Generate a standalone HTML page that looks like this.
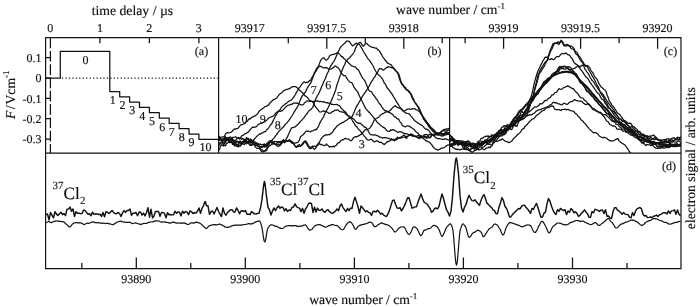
<!DOCTYPE html>
<html><head><meta charset="utf-8"><title>figure</title>
<style>html,body{margin:0;padding:0;background:#fff}svg{display:block}</style></head>
<body>
<svg width="700" height="307" viewBox="0 0 700 307">
<rect width="700" height="307" fill="#fff"/>
<g fill="none" stroke="#111" stroke-width="1.25" stroke-linejoin="round" stroke-linecap="butt">
<path d="M45.6 37.6 H681.0 V268.7 H45.6 Z M45.6 153.1 H681.0 M218.6 37.6 V153.1 M449.6 37.6 V153.1" stroke-width="1.2"/>
<path d="M99.9 37.6 v5.6 M149.4 37.6 v5.6 M198.9 37.6 v5.6 M45.6 57.7 h5.2 M45.6 78.0 h5.2 M45.6 98.4 h5.2 M45.6 118.7 h5.2 M45.6 139.1 h5.2 M249.8 37.6 v11.2 M326.8 37.6 v11.2 M403.8 37.6 v11.2 M288.3 37.6 v5.6 M365.3 37.6 v5.6 M442.2 37.6 v5.6 M503.6 37.6 v11.2 M580.6 37.6 v11.2 M657.6 37.6 v11.2 M465.1 37.6 v5.6 M542.1 37.6 v5.6 M619.1 37.6 v5.6 M136.3 268.7 v-11.3 M245.3 268.7 v-11.3 M354.4 268.7 v-11.3 M463.4 268.7 v-11.3 M572.5 268.7 v-11.3 M81.8 268.7 v-5.6 M190.8 268.7 v-5.6 M299.9 268.7 v-5.6 M408.9 268.7 v-5.6 M517.9 268.7 v-5.6 M627.0 268.7 v-5.6"/>
<path d="M50.4 37.6 V153" stroke-dasharray="10.7 2.6"/>
<path d="M62.0 78.2 H218.6" stroke-dasharray="1.2 2.25"/>
<path d="M46 78.2 L60.3 78.2 L60.3 51.4 L109.8 51.4 L109.8 91.5 L119.7 91.5 L119.7 96.8 L129.6 96.8 L129.6 102.1 L139.5 102.1 L139.5 107.4 L149.4 107.4 L149.4 112.7 L159.3 112.7 L159.3 118.0 L169.2 118.0 L169.2 123.4 L179.1 123.4 L179.1 128.7 L189.0 128.7 L189.0 134.0 L198.9 134.0 L198.9 139.3 L218.7 139.3"/>
<clipPath id="cb"><rect x="218.6" y="37.6" width="231.2" height="115.5"/></clipPath>
<clipPath id="cc"><rect x="449.8" y="37.6" width="231.4" height="115.5"/></clipPath>
<g clip-path="url(#cb)">
<path d="M218.5 140.5 L219.5 139.7 L220.5 137.3 L221.5 137.2 L222.5 136.8 L223.5 137.0 L224.5 136.1 L225.5 133.9 L226.5 132.8 L227.5 132.6 L228.5 132.8 L229.5 132.7 L230.5 132.5 L231.5 131.9 L232.5 131.1 L233.5 129.6 L234.5 128.9 L235.5 129.1 L236.5 128.6 L237.5 128.6 L238.5 127.7 L239.5 126.3 L240.5 125.2 L241.5 124.5 L242.5 124.5 L243.5 124.0 L244.5 123.7 L245.5 122.8 L246.5 121.3 L247.5 121.1 L248.5 119.4 L249.5 118.6 L250.5 118.8 L251.5 117.4 L252.5 117.2 L253.5 116.6 L254.5 116.1 L255.5 115.6 L256.5 114.8 L257.5 113.9 L258.5 112.2 L259.5 110.7 L260.5 110.1 L261.5 109.2 L262.5 108.5 L263.5 108.1 L264.5 106.9 L265.5 106.5 L266.5 106.3 L267.5 105.3 L268.5 105.2 L269.5 103.6 L270.5 102.2 L271.5 101.6 L272.5 100.3 L273.5 99.7 L274.5 99.4 L275.5 98.8 L276.5 98.2 L277.5 97.0 L278.5 95.5 L279.5 94.2 L280.5 93.4 L281.5 93.1 L282.5 92.1 L283.5 90.7 L284.5 90.5 L285.5 89.6 L286.5 89.4 L287.5 89.5 L288.5 88.8 L289.5 88.7 L290.5 87.9 L291.5 87.1 L292.5 86.8 L293.5 86.5 L294.5 86.5 L295.5 86.6 L296.5 87.3 L297.5 88.0 L298.5 89.1 L299.5 90.4 L300.5 90.8 L301.5 91.9 L302.5 92.6 L303.5 93.9 L304.5 95.3 L305.5 96.2 L306.5 96.6 L307.5 97.6 L308.5 99.0 L309.5 100.5 L310.5 100.9 L311.5 101.3 L312.5 101.8 L313.5 103.1 L314.5 105.4 L315.5 106.7 L316.5 108.1 L317.5 109.0 L318.5 110.7 L319.5 111.9 L320.5 112.0 L321.5 111.8 L322.5 111.0 L323.5 110.9 L324.5 111.4 L325.5 111.6 L326.5 111.7 L327.5 112.3 L328.5 113.1 L329.5 113.3 L330.5 113.2 L331.5 112.4 L332.5 111.5 L333.5 111.5 L334.5 110.4 L335.5 110.0 L336.5 110.3 L337.5 109.7 L338.5 110.4 L339.5 111.3 L340.5 111.6 L341.5 111.8 L342.5 112.1 L343.5 112.1 L344.5 112.7 L345.5 113.9 L346.5 114.6 L347.5 115.5 L348.5 115.8 L349.5 116.2 L350.5 117.6 L351.5 118.8 L352.5 120.8 L353.5 122.4 L354.5 123.9 L355.5 125.9 L356.5 126.4 L357.5 127.9 L358.5 129.2 L359.5 129.9 L360.5 131.4 L361.5 132.5 L362.5 133.5 L363.5 135.3 L364.5 136.4 L365.5 137.3 L366.5 139.1 L367.5 139.7 L368.5 140.2 L369.5 140.0 L370.5 139.3 L371.5 139.3 L372.5 140.2 L373.5 141.2 L374.5 142.0 L375.5 141.2 L376.5 140.7 L377.5 140.9 L378.5 141.7 L379.5 142.5 L380.5 142.2 L381.5 142.6 L382.5 143.3 L383.5 144.2 L384.5 144.5 L385.5 143.3 L386.5 142.8 L387.5 141.5 L388.5 141.7 L389.5 140.8 L390.5 140.5 L391.5 139.4 L392.5 139.8 L393.5 140.0 L394.5 140.2 L395.5 138.9 L396.5 138.5 L397.5 137.1 L398.5 138.1 L399.5 137.5 L400.5 138.0 L401.5 136.9 L402.5 136.1 L403.5 135.1 L404.5 135.1 L405.5 136.7 L406.5 136.7 L407.5 136.3 L408.5 135.4 L409.5 135.0 L410.5 134.4 L411.5 134.1 L412.5 134.9 L413.5 135.6 L414.5 136.6 L415.5 136.6 L416.5 137.0 L417.5 137.1 L418.5 138.2 L419.5 137.1 L420.5 136.1 L421.5 135.9 L422.5 136.0 L423.5 135.8 L424.5 134.5 L425.5 134.5 L426.5 134.4 L427.5 135.1 L428.5 136.3 L429.5 137.6 L430.5 137.4 L431.5 135.5 L432.5 134.5 L433.5 134.1 L434.5 135.2 L435.5 135.0 L436.5 134.1 L437.5 134.0 L438.5 132.8 L439.5 133.2 L440.5 133.0 L441.5 134.2 L442.5 135.2 L443.5 133.6 L444.5 133.5 L445.5 132.9 L446.5 133.8 L447.5 133.8 L448.5 132.7 L449.5 132.2"/>
<path d="M218.5 146.1 L219.5 144.5 L220.5 142.8 L221.5 142.0 L222.5 140.8 L223.5 138.9 L224.5 138.6 L225.5 138.5 L226.5 138.7 L227.5 137.8 L228.5 137.8 L229.5 137.1 L230.5 137.0 L231.5 138.1 L232.5 139.9 L233.5 140.4 L234.5 140.7 L235.5 141.1 L236.5 139.0 L237.5 138.2 L238.5 137.8 L239.5 139.2 L240.5 138.1 L241.5 135.9 L242.5 135.7 L243.5 135.0 L244.5 133.9 L245.5 133.7 L246.5 133.1 L247.5 132.5 L248.5 131.9 L249.5 130.7 L250.5 129.4 L251.5 128.2 L252.5 127.1 L253.5 127.3 L254.5 127.4 L255.5 126.8 L256.5 126.7 L257.5 125.4 L258.5 124.0 L259.5 124.0 L260.5 123.5 L261.5 123.0 L262.5 122.8 L263.5 122.2 L264.5 121.8 L265.5 121.0 L266.5 120.4 L267.5 119.3 L268.5 118.0 L269.5 117.5 L270.5 117.0 L271.5 116.9 L272.5 116.3 L273.5 116.0 L274.5 114.6 L275.5 113.5 L276.5 112.4 L277.5 111.8 L278.5 111.0 L279.5 111.2 L280.5 111.5 L281.5 110.7 L282.5 110.6 L283.5 109.3 L284.5 108.4 L285.5 107.2 L286.5 106.4 L287.5 105.5 L288.5 105.2 L289.5 105.1 L290.5 104.4 L291.5 104.4 L292.5 103.9 L293.5 103.1 L294.5 103.2 L295.5 103.1 L296.5 102.9 L297.5 103.3 L298.5 103.8 L299.5 104.0 L300.5 104.7 L301.5 104.8 L302.5 104.9 L303.5 104.5 L304.5 102.7 L305.5 102.2 L306.5 101.3 L307.5 100.8 L308.5 101.0 L309.5 101.3 L310.5 101.1 L311.5 101.3 L312.5 101.7 L313.5 101.4 L314.5 101.2 L315.5 100.8 L316.5 101.1 L317.5 100.8 L318.5 101.1 L319.5 101.8 L320.5 101.3 L321.5 101.6 L322.5 101.8 L323.5 101.6 L324.5 102.3 L325.5 102.3 L326.5 102.9 L327.5 102.7 L328.5 103.1 L329.5 103.2 L330.5 103.1 L331.5 104.4 L332.5 104.4 L333.5 104.5 L334.5 104.6 L335.5 104.5 L336.5 104.3 L337.5 104.7 L338.5 105.5 L339.5 105.7 L340.5 107.1 L341.5 108.7 L342.5 109.2 L343.5 110.6 L344.5 111.3 L345.5 112.0 L346.5 113.3 L347.5 115.0 L348.5 116.4 L349.5 117.5 L350.5 117.9 L351.5 117.9 L352.5 118.3 L353.5 118.8 L354.5 119.9 L355.5 121.2 L356.5 122.3 L357.5 122.7 L358.5 123.4 L359.5 123.1 L360.5 123.4 L361.5 124.5 L362.5 125.1 L363.5 126.3 L364.5 127.2 L365.5 127.2 L366.5 128.2 L367.5 129.8 L368.5 131.4 L369.5 133.6 L370.5 134.6 L371.5 134.7 L372.5 134.8 L373.5 135.3 L374.5 134.8 L375.5 134.9 L376.5 135.6 L377.5 135.7 L378.5 136.3 L379.5 137.2 L380.5 137.1 L381.5 137.5 L382.5 138.2 L383.5 137.6 L384.5 137.6 L385.5 137.6 L386.5 137.8 L387.5 138.2 L388.5 138.4 L389.5 138.6 L390.5 139.6 L391.5 138.7 L392.5 139.8 L393.5 139.2 L394.5 140.9 L395.5 139.9 L396.5 139.7 L397.5 138.9 L398.5 138.5 L399.5 137.9 L400.5 137.2 L401.5 137.9 L402.5 137.2 L403.5 137.1 L404.5 137.0 L405.5 137.6 L406.5 138.4 L407.5 136.5 L408.5 135.9 L409.5 134.8 L410.5 135.4 L411.5 135.6 L412.5 136.1 L413.5 135.9 L414.5 136.4 L415.5 136.2 L416.5 136.7 L417.5 137.7 L418.5 137.4 L419.5 138.6 L420.5 137.3 L421.5 137.7 L422.5 136.9 L423.5 136.9 L424.5 137.1 L425.5 137.6 L426.5 138.3 L427.5 137.8 L428.5 137.8 L429.5 137.6 L430.5 137.6 L431.5 135.4 L432.5 134.8 L433.5 134.8 L434.5 135.5 L435.5 133.9 L436.5 132.9 L437.5 133.2 L438.5 133.7 L439.5 133.7 L440.5 133.8 L441.5 134.0 L442.5 133.8 L443.5 134.1 L444.5 134.4 L445.5 134.0 L446.5 133.4 L447.5 133.6 L448.5 134.1 L449.5 133.8"/>
<path d="M218.5 135.7 L219.5 136.8 L220.5 138.5 L221.5 141.4 L222.5 143.1 L223.5 142.7 L224.5 142.3 L225.5 139.8 L226.5 139.5 L227.5 140.3 L228.5 141.1 L229.5 140.3 L230.5 138.6 L231.5 138.3 L232.5 138.9 L233.5 139.9 L234.5 141.3 L235.5 142.0 L236.5 141.1 L237.5 141.5 L238.5 142.3 L239.5 142.7 L240.5 143.5 L241.5 142.8 L242.5 142.3 L243.5 140.7 L244.5 141.7 L245.5 142.1 L246.5 142.2 L247.5 142.0 L248.5 141.6 L249.5 141.2 L250.5 140.1 L251.5 140.3 L252.5 140.4 L253.5 140.1 L254.5 138.8 L255.5 137.9 L256.5 136.5 L257.5 135.8 L258.5 134.9 L259.5 133.8 L260.5 134.2 L261.5 132.9 L262.5 132.9 L263.5 132.5 L264.5 131.5 L265.5 131.5 L266.5 130.1 L267.5 129.0 L268.5 128.1 L269.5 126.5 L270.5 124.9 L271.5 124.1 L272.5 122.1 L273.5 120.0 L274.5 118.2 L275.5 115.8 L276.5 114.5 L277.5 113.0 L278.5 111.4 L279.5 110.3 L280.5 109.0 L281.5 107.3 L282.5 106.1 L283.5 105.4 L284.5 104.7 L285.5 103.7 L286.5 103.4 L287.5 102.2 L288.5 101.5 L289.5 100.8 L290.5 100.5 L291.5 99.8 L292.5 98.6 L293.5 97.3 L294.5 96.0 L295.5 94.3 L296.5 92.4 L297.5 90.7 L298.5 88.5 L299.5 87.7 L300.5 86.3 L301.5 84.6 L302.5 83.6 L303.5 82.2 L304.5 81.9 L305.5 82.7 L306.5 82.2 L307.5 82.5 L308.5 81.9 L309.5 80.6 L310.5 80.2 L311.5 78.3 L312.5 76.6 L313.5 75.1 L314.5 73.2 L315.5 71.8 L316.5 70.3 L317.5 68.4 L318.5 67.0 L319.5 66.2 L320.5 66.4 L321.5 66.7 L322.5 67.6 L323.5 67.8 L324.5 67.5 L325.5 67.9 L326.5 67.7 L327.5 68.1 L328.5 69.1 L329.5 69.0 L330.5 69.2 L331.5 69.0 L332.5 67.8 L333.5 67.8 L334.5 66.5 L335.5 65.9 L336.5 66.8 L337.5 67.2 L338.5 68.1 L339.5 69.5 L340.5 71.7 L341.5 73.5 L342.5 74.3 L343.5 75.7 L344.5 75.7 L345.5 75.9 L346.5 77.7 L347.5 79.3 L348.5 80.6 L349.5 81.7 L350.5 82.3 L351.5 82.5 L352.5 83.6 L353.5 86.3 L354.5 87.8 L355.5 89.3 L356.5 90.7 L357.5 91.4 L358.5 93.8 L359.5 96.2 L360.5 98.1 L361.5 100.2 L362.5 102.0 L363.5 104.2 L364.5 106.1 L365.5 108.2 L366.5 109.4 L367.5 110.4 L368.5 111.9 L369.5 112.3 L370.5 113.8 L371.5 114.9 L372.5 116.1 L373.5 117.7 L374.5 118.2 L375.5 119.9 L376.5 121.2 L377.5 122.6 L378.5 123.4 L379.5 124.1 L380.5 125.5 L381.5 125.9 L382.5 126.9 L383.5 127.4 L384.5 127.9 L385.5 129.0 L386.5 130.3 L387.5 131.1 L388.5 131.4 L389.5 131.3 L390.5 129.9 L391.5 130.3 L392.5 129.9 L393.5 129.5 L394.5 130.5 L395.5 130.8 L396.5 131.4 L397.5 132.3 L398.5 132.1 L399.5 131.6 L400.5 131.6 L401.5 132.0 L402.5 132.6 L403.5 133.1 L404.5 133.4 L405.5 133.6 L406.5 133.8 L407.5 133.9 L408.5 134.6 L409.5 134.6 L410.5 134.2 L411.5 134.7 L412.5 134.5 L413.5 135.3 L414.5 136.4 L415.5 136.1 L416.5 136.4 L417.5 135.8 L418.5 135.4 L419.5 136.4 L420.5 136.2 L421.5 136.6 L422.5 137.1 L423.5 136.8 L424.5 136.6 L425.5 136.2 L426.5 137.5 L427.5 136.4 L428.5 135.0 L429.5 134.4 L430.5 134.6 L431.5 135.0 L432.5 134.6 L433.5 135.4 L434.5 134.0 L435.5 133.7 L436.5 133.6 L437.5 133.7 L438.5 134.1 L439.5 132.8 L440.5 133.0 L441.5 133.2 L442.5 134.0 L443.5 134.7 L444.5 133.1 L445.5 132.6 L446.5 132.1 L447.5 133.2 L448.5 133.5 L449.5 134.0"/>
<path d="M218.5 150.1 L219.5 149.4 L220.5 146.1 L221.5 145.4 L222.5 144.8 L223.5 146.0 L224.5 145.0 L225.5 145.9 L226.5 143.5 L227.5 143.2 L228.5 141.8 L229.5 142.6 L230.5 141.3 L231.5 140.8 L232.5 144.5 L233.5 144.2 L234.5 143.4 L235.5 143.8 L236.5 145.9 L237.5 146.7 L238.5 144.3 L239.5 145.5 L240.5 145.8 L241.5 144.6 L242.5 143.9 L243.5 144.0 L244.5 144.6 L245.5 142.7 L246.5 140.3 L247.5 139.0 L248.5 138.3 L249.5 142.3 L250.5 144.7 L251.5 145.4 L252.5 145.0 L253.5 144.2 L254.5 145.4 L255.5 147.1 L256.5 148.1 L257.5 148.4 L258.5 148.5 L259.5 148.3 L260.5 150.2 L261.5 151.5 L262.5 152.0 L263.5 151.2 L264.5 150.7 L265.5 150.8 L266.5 150.5 L267.5 148.2 L268.5 145.7 L269.5 143.4 L270.5 141.4 L271.5 140.3 L272.5 139.7 L273.5 138.6 L274.5 137.4 L275.5 135.9 L276.5 134.6 L277.5 133.1 L278.5 131.9 L279.5 130.6 L280.5 129.6 L281.5 128.8 L282.5 127.8 L283.5 126.8 L284.5 125.3 L285.5 124.0 L286.5 123.5 L287.5 122.1 L288.5 120.9 L289.5 119.7 L290.5 117.9 L291.5 116.5 L292.5 115.0 L293.5 113.3 L294.5 111.4 L295.5 109.8 L296.5 108.3 L297.5 106.8 L298.5 104.9 L299.5 102.0 L300.5 99.8 L301.5 97.3 L302.5 95.4 L303.5 94.5 L304.5 92.9 L305.5 92.1 L306.5 89.8 L307.5 87.5 L308.5 86.3 L309.5 84.4 L310.5 83.5 L311.5 81.0 L312.5 78.6 L313.5 75.8 L314.5 72.5 L315.5 70.9 L316.5 68.4 L317.5 67.3 L318.5 66.1 L319.5 63.4 L320.5 60.7 L321.5 59.3 L322.5 58.2 L323.5 57.8 L324.5 58.6 L325.5 59.8 L326.5 60.1 L327.5 59.4 L328.5 58.1 L329.5 55.9 L330.5 55.2 L331.5 54.7 L332.5 54.7 L333.5 54.2 L334.5 54.2 L335.5 53.7 L336.5 53.1 L337.5 52.9 L338.5 53.1 L339.5 54.1 L340.5 55.1 L341.5 56.8 L342.5 56.7 L343.5 58.2 L344.5 59.1 L345.5 59.8 L346.5 61.1 L347.5 61.7 L348.5 62.8 L349.5 63.8 L350.5 64.7 L351.5 65.9 L352.5 66.2 L353.5 66.5 L354.5 67.0 L355.5 66.9 L356.5 68.5 L357.5 69.4 L358.5 70.0 L359.5 72.1 L360.5 74.1 L361.5 76.3 L362.5 77.9 L363.5 79.2 L364.5 80.4 L365.5 82.1 L366.5 84.7 L367.5 87.0 L368.5 89.6 L369.5 91.0 L370.5 91.3 L371.5 91.8 L372.5 93.6 L373.5 95.0 L374.5 96.2 L375.5 97.7 L376.5 99.1 L377.5 100.3 L378.5 102.2 L379.5 103.9 L380.5 104.5 L381.5 106.5 L382.5 108.0 L383.5 109.1 L384.5 110.4 L385.5 110.7 L386.5 111.0 L387.5 111.8 L388.5 112.3 L389.5 112.6 L390.5 112.9 L391.5 114.0 L392.5 114.2 L393.5 115.6 L394.5 116.9 L395.5 116.9 L396.5 118.2 L397.5 118.9 L398.5 118.8 L399.5 121.0 L400.5 122.5 L401.5 123.4 L402.5 125.7 L403.5 126.2 L404.5 126.6 L405.5 126.8 L406.5 126.0 L407.5 125.9 L408.5 126.1 L409.5 126.3 L410.5 127.1 L411.5 127.7 L412.5 128.3 L413.5 129.1 L414.5 129.8 L415.5 131.4 L416.5 132.3 L417.5 132.7 L418.5 134.2 L419.5 134.8 L420.5 135.9 L421.5 137.5 L422.5 137.8 L423.5 138.7 L424.5 139.5 L425.5 140.4 L426.5 140.9 L427.5 141.4 L428.5 142.0 L429.5 142.2 L430.5 143.5 L431.5 144.4 L432.5 145.8 L433.5 147.4 L434.5 148.2 L435.5 149.1 L436.5 149.3 L437.5 150.1 L438.5 149.9 L439.5 149.3 L440.5 148.9 L441.5 148.0 L442.5 148.1 L443.5 147.8 L444.5 147.2 L445.5 146.7 L446.5 145.7 L447.5 145.1 L448.5 144.9 L449.5 144.5"/>
<path d="M218.5 139.5 L219.5 140.5 L220.5 139.4 L221.5 140.0 L222.5 141.2 L223.5 140.3 L224.5 137.6 L225.5 136.8 L226.5 140.0 L227.5 140.2 L228.5 139.7 L229.5 140.3 L230.5 142.5 L231.5 142.3 L232.5 142.9 L233.5 144.0 L234.5 146.0 L235.5 145.7 L236.5 144.8 L237.5 145.5 L238.5 146.9 L239.5 145.9 L240.5 145.8 L241.5 143.8 L242.5 142.6 L243.5 141.1 L244.5 140.6 L245.5 140.1 L246.5 137.6 L247.5 138.4 L248.5 140.0 L249.5 140.8 L250.5 142.5 L251.5 142.7 L252.5 142.2 L253.5 140.2 L254.5 142.2 L255.5 143.4 L256.5 145.5 L257.5 145.7 L258.5 146.6 L259.5 147.3 L260.5 148.9 L261.5 149.5 L262.5 150.0 L263.5 151.6 L264.5 151.3 L265.5 150.1 L266.5 148.8 L267.5 147.4 L268.5 146.8 L269.5 145.9 L270.5 145.2 L271.5 144.4 L272.5 142.7 L273.5 143.8 L274.5 143.7 L275.5 144.6 L276.5 145.5 L277.5 146.3 L278.5 146.2 L279.5 145.8 L280.5 144.3 L281.5 143.0 L282.5 141.9 L283.5 141.6 L284.5 142.9 L285.5 140.5 L286.5 138.4 L287.5 136.9 L288.5 134.2 L289.5 132.3 L290.5 130.1 L291.5 127.9 L292.5 127.7 L293.5 127.3 L294.5 127.1 L295.5 126.6 L296.5 125.5 L297.5 124.9 L298.5 123.7 L299.5 122.8 L300.5 121.4 L301.5 120.4 L302.5 119.5 L303.5 118.0 L304.5 117.3 L305.5 115.4 L306.5 114.2 L307.5 113.0 L308.5 111.3 L309.5 110.1 L310.5 109.8 L311.5 109.0 L312.5 107.6 L313.5 105.6 L314.5 102.0 L315.5 99.5 L316.5 97.5 L317.5 95.5 L318.5 94.0 L319.5 91.9 L320.5 89.4 L321.5 86.9 L322.5 84.8 L323.5 82.6 L324.5 80.0 L325.5 78.5 L326.5 75.3 L327.5 73.0 L328.5 71.4 L329.5 68.1 L330.5 66.3 L331.5 64.8 L332.5 63.1 L333.5 61.8 L334.5 60.3 L335.5 58.0 L336.5 55.7 L337.5 53.4 L338.5 51.3 L339.5 49.3 L340.5 47.4 L341.5 46.1 L342.5 45.2 L343.5 44.1 L344.5 43.4 L345.5 42.6 L346.5 41.2 L347.5 41.0 L348.5 41.1 L349.5 41.7 L350.5 43.3 L351.5 44.7 L352.5 45.8 L353.5 45.4 L354.5 44.5 L355.5 43.6 L356.5 43.1 L357.5 44.0 L358.5 44.1 L359.5 44.5 L360.5 46.3 L361.5 47.7 L362.5 49.4 L363.5 51.5 L364.5 53.1 L365.5 54.6 L366.5 56.4 L367.5 58.2 L368.5 59.4 L369.5 60.3 L370.5 61.8 L371.5 63.3 L372.5 65.0 L373.5 66.8 L374.5 69.0 L375.5 70.7 L376.5 72.5 L377.5 74.0 L378.5 74.7 L379.5 75.6 L380.5 76.5 L381.5 78.0 L382.5 79.1 L383.5 81.2 L384.5 83.4 L385.5 84.3 L386.5 86.7 L387.5 88.3 L388.5 89.3 L389.5 90.7 L390.5 92.2 L391.5 93.2 L392.5 94.8 L393.5 96.8 L394.5 98.1 L395.5 99.9 L396.5 101.6 L397.5 103.5 L398.5 104.7 L399.5 106.5 L400.5 107.9 L401.5 108.9 L402.5 109.8 L403.5 110.9 L404.5 112.2 L405.5 112.9 L406.5 113.2 L407.5 113.5 L408.5 113.7 L409.5 114.1 L410.5 115.6 L411.5 116.6 L412.5 117.9 L413.5 119.1 L414.5 120.6 L415.5 121.3 L416.5 121.9 L417.5 123.0 L418.5 123.2 L419.5 124.1 L420.5 124.7 L421.5 124.9 L422.5 125.9 L423.5 126.9 L424.5 128.1 L425.5 129.0 L426.5 129.0 L427.5 129.6 L428.5 130.2 L429.5 131.4 L430.5 133.1 L431.5 133.8 L432.5 135.0 L433.5 135.6 L434.5 136.5 L435.5 137.6 L436.5 137.9 L437.5 138.7 L438.5 138.7 L439.5 138.6 L440.5 139.0 L441.5 139.2 L442.5 139.5 L443.5 139.0 L444.5 139.3 L445.5 138.9 L446.5 138.9 L447.5 139.7 L448.5 139.8 L449.5 140.1"/>
<path d="M218.5 139.4 L219.5 137.5 L220.5 138.5 L221.5 140.3 L222.5 140.5 L223.5 140.3 L224.5 139.2 L225.5 137.0 L226.5 138.3 L227.5 139.0 L228.5 140.4 L229.5 141.5 L230.5 141.6 L231.5 142.5 L232.5 140.4 L233.5 139.6 L234.5 144.6 L235.5 144.9 L236.5 145.3 L237.5 144.7 L238.5 143.3 L239.5 141.4 L240.5 141.0 L241.5 143.5 L242.5 143.5 L243.5 141.8 L244.5 141.4 L245.5 142.0 L246.5 143.8 L247.5 143.0 L248.5 141.9 L249.5 140.9 L250.5 138.9 L251.5 140.2 L252.5 142.5 L253.5 142.1 L254.5 144.6 L255.5 144.4 L256.5 143.4 L257.5 143.3 L258.5 144.1 L259.5 146.7 L260.5 146.5 L261.5 146.4 L262.5 147.2 L263.5 146.4 L264.5 143.8 L265.5 145.1 L266.5 143.9 L267.5 144.7 L268.5 143.3 L269.5 142.4 L270.5 141.2 L271.5 140.8 L272.5 142.2 L273.5 143.0 L274.5 141.5 L275.5 141.6 L276.5 141.5 L277.5 141.8 L278.5 141.7 L279.5 142.0 L280.5 143.3 L281.5 142.1 L282.5 141.2 L283.5 139.7 L284.5 140.8 L285.5 140.7 L286.5 141.6 L287.5 140.9 L288.5 141.2 L289.5 140.6 L290.5 141.1 L291.5 142.6 L292.5 142.7 L293.5 143.1 L294.5 143.0 L295.5 143.0 L296.5 142.6 L297.5 142.6 L298.5 141.6 L299.5 139.7 L300.5 136.6 L301.5 136.0 L302.5 135.3 L303.5 134.3 L304.5 133.3 L305.5 131.9 L306.5 131.0 L307.5 131.4 L308.5 131.0 L309.5 131.5 L310.5 131.9 L311.5 131.1 L312.5 130.8 L313.5 130.6 L314.5 129.8 L315.5 129.4 L316.5 129.6 L317.5 127.9 L318.5 126.3 L319.5 123.6 L320.5 121.6 L321.5 120.0 L322.5 118.4 L323.5 117.0 L324.5 114.3 L325.5 112.6 L326.5 110.4 L327.5 108.7 L328.5 107.0 L329.5 104.8 L330.5 102.7 L331.5 100.1 L332.5 98.1 L333.5 95.4 L334.5 93.0 L335.5 90.6 L336.5 86.5 L337.5 83.3 L338.5 80.6 L339.5 77.1 L340.5 74.9 L341.5 71.9 L342.5 69.2 L343.5 66.8 L344.5 65.0 L345.5 62.5 L346.5 60.7 L347.5 59.7 L348.5 58.3 L349.5 58.2 L350.5 56.4 L351.5 55.7 L352.5 54.4 L353.5 53.0 L354.5 51.3 L355.5 48.1 L356.5 46.4 L357.5 44.4 L358.5 43.2 L359.5 42.6 L360.5 42.5 L361.5 43.7 L362.5 45.7 L363.5 46.1 L364.5 45.0 L365.5 43.8 L366.5 43.3 L367.5 44.2 L368.5 45.1 L369.5 46.1 L370.5 46.4 L371.5 47.1 L372.5 47.4 L373.5 47.4 L374.5 47.9 L375.5 48.1 L376.5 48.0 L377.5 49.6 L378.5 50.1 L379.5 51.0 L380.5 53.0 L381.5 54.3 L382.5 56.6 L383.5 57.8 L384.5 59.2 L385.5 60.8 L386.5 61.6 L387.5 63.2 L388.5 63.4 L389.5 64.1 L390.5 64.5 L391.5 65.1 L392.5 67.1 L393.5 67.7 L394.5 69.2 L395.5 70.6 L396.5 71.5 L397.5 72.8 L398.5 75.4 L399.5 79.0 L400.5 81.6 L401.5 83.8 L402.5 85.0 L403.5 86.1 L404.5 87.9 L405.5 88.9 L406.5 89.7 L407.5 90.1 L408.5 90.6 L409.5 91.8 L410.5 93.5 L411.5 96.4 L412.5 98.6 L413.5 100.1 L414.5 101.8 L415.5 102.9 L416.5 104.3 L417.5 106.1 L418.5 108.3 L419.5 110.9 L420.5 113.0 L421.5 114.9 L422.5 116.2 L423.5 117.0 L424.5 118.7 L425.5 120.1 L426.5 121.8 L427.5 123.8 L428.5 125.1 L429.5 126.0 L430.5 127.3 L431.5 127.7 L432.5 128.6 L433.5 129.5 L434.5 130.4 L435.5 132.1 L436.5 133.3 L437.5 134.8 L438.5 134.3 L439.5 133.8 L440.5 132.3 L441.5 131.0 L442.5 130.9 L443.5 130.2 L444.5 130.9 L445.5 131.2 L446.5 130.7 L447.5 131.1 L448.5 130.1 L449.5 129.6"/>
<path d="M218.5 136.3 L219.5 139.1 L220.5 139.0 L221.5 139.1 L222.5 138.8 L223.5 140.9 L224.5 140.0 L225.5 141.1 L226.5 139.6 L227.5 139.9 L228.5 139.9 L229.5 138.8 L230.5 139.2 L231.5 140.5 L232.5 142.4 L233.5 142.6 L234.5 141.5 L235.5 143.1 L236.5 142.9 L237.5 141.2 L238.5 141.9 L239.5 142.3 L240.5 143.7 L241.5 142.4 L242.5 141.6 L243.5 143.0 L244.5 142.6 L245.5 142.1 L246.5 140.8 L247.5 141.9 L248.5 142.1 L249.5 142.1 L250.5 140.9 L251.5 141.9 L252.5 142.5 L253.5 142.8 L254.5 142.7 L255.5 142.2 L256.5 142.9 L257.5 144.5 L258.5 143.8 L259.5 144.7 L260.5 144.0 L261.5 144.8 L262.5 144.7 L263.5 144.2 L264.5 146.4 L265.5 145.0 L266.5 145.1 L267.5 142.6 L268.5 142.4 L269.5 140.9 L270.5 140.8 L271.5 142.0 L272.5 144.3 L273.5 143.4 L274.5 143.5 L275.5 144.2 L276.5 144.8 L277.5 145.0 L278.5 144.0 L279.5 145.0 L280.5 145.1 L281.5 143.5 L282.5 142.8 L283.5 141.0 L284.5 140.5 L285.5 140.4 L286.5 141.1 L287.5 140.9 L288.5 140.9 L289.5 140.2 L290.5 141.8 L291.5 142.6 L292.5 143.4 L293.5 143.7 L294.5 145.0 L295.5 146.8 L296.5 147.5 L297.5 145.4 L298.5 145.1 L299.5 144.6 L300.5 146.3 L301.5 145.0 L302.5 143.4 L303.5 142.2 L304.5 141.5 L305.5 142.5 L306.5 143.6 L307.5 145.7 L308.5 147.0 L309.5 148.5 L310.5 148.5 L311.5 148.1 L312.5 146.2 L313.5 146.3 L314.5 146.0 L315.5 146.9 L316.5 145.6 L317.5 144.4 L318.5 143.2 L319.5 142.2 L320.5 139.6 L321.5 138.5 L322.5 137.2 L323.5 136.1 L324.5 135.6 L325.5 134.6 L326.5 135.2 L327.5 134.9 L328.5 134.7 L329.5 134.7 L330.5 133.7 L331.5 133.1 L332.5 132.2 L333.5 130.5 L334.5 129.2 L335.5 128.0 L336.5 126.6 L337.5 125.8 L338.5 125.1 L339.5 124.1 L340.5 123.7 L341.5 123.1 L342.5 122.3 L343.5 122.3 L344.5 121.6 L345.5 120.8 L346.5 120.3 L347.5 119.5 L348.5 118.7 L349.5 118.3 L350.5 117.6 L351.5 117.1 L352.5 116.0 L353.5 113.5 L354.5 111.3 L355.5 108.6 L356.5 106.6 L357.5 104.9 L358.5 103.3 L359.5 101.6 L360.5 99.7 L361.5 98.1 L362.5 96.1 L363.5 94.8 L364.5 93.2 L365.5 91.8 L366.5 90.5 L367.5 88.7 L368.5 87.1 L369.5 85.6 L370.5 83.3 L371.5 81.7 L372.5 80.4 L373.5 78.3 L374.5 77.4 L375.5 75.6 L376.5 73.6 L377.5 72.4 L378.5 70.2 L379.5 68.7 L380.5 68.5 L381.5 68.8 L382.5 69.7 L383.5 70.1 L384.5 69.4 L385.5 68.4 L386.5 67.6 L387.5 67.1 L388.5 66.7 L389.5 67.0 L390.5 67.4 L391.5 67.6 L392.5 68.0 L393.5 68.5 L394.5 69.2 L395.5 70.8 L396.5 71.3 L397.5 72.4 L398.5 73.4 L399.5 76.1 L400.5 80.1 L401.5 82.8 L402.5 84.1 L403.5 85.7 L404.5 86.6 L405.5 87.5 L406.5 89.4 L407.5 90.5 L408.5 91.4 L409.5 92.8 L410.5 93.2 L411.5 94.8 L412.5 97.0 L413.5 98.8 L414.5 101.7 L415.5 103.5 L416.5 104.7 L417.5 105.9 L418.5 107.0 L419.5 108.8 L420.5 110.9 L421.5 113.8 L422.5 115.7 L423.5 117.8 L424.5 119.8 L425.5 120.5 L426.5 122.0 L427.5 123.1 L428.5 123.7 L429.5 125.6 L430.5 127.2 L431.5 128.7 L432.5 130.9 L433.5 132.0 L434.5 132.2 L435.5 132.4 L436.5 132.7 L437.5 133.1 L438.5 133.6 L439.5 134.1 L440.5 132.9 L441.5 131.9 L442.5 131.0 L443.5 129.6 L444.5 129.3 L445.5 129.3 L446.5 128.9 L447.5 129.1 L448.5 128.5 L449.5 128.1"/>
<path d="M218.5 142.0 L219.5 143.5 L220.5 143.8 L221.5 144.0 L222.5 143.5 L223.5 144.4 L224.5 143.6 L225.5 142.8 L226.5 140.6 L227.5 138.0 L228.5 137.9 L229.5 140.0 L230.5 139.9 L231.5 138.8 L232.5 137.3 L233.5 137.5 L234.5 137.2 L235.5 136.7 L236.5 137.5 L237.5 138.1 L238.5 137.4 L239.5 138.2 L240.5 137.6 L241.5 139.4 L242.5 138.5 L243.5 139.3 L244.5 139.2 L245.5 140.7 L246.5 142.9 L247.5 143.0 L248.5 143.2 L249.5 145.0 L250.5 145.0 L251.5 145.3 L252.5 142.3 L253.5 143.6 L254.5 144.7 L255.5 145.3 L256.5 145.7 L257.5 146.0 L258.5 146.3 L259.5 146.9 L260.5 147.1 L261.5 147.3 L262.5 147.1 L263.5 145.7 L264.5 147.1 L265.5 146.5 L266.5 146.9 L267.5 145.1 L268.5 143.7 L269.5 142.6 L270.5 141.8 L271.5 141.2 L272.5 140.9 L273.5 142.3 L274.5 144.0 L275.5 144.4 L276.5 143.7 L277.5 142.3 L278.5 142.3 L279.5 141.6 L280.5 141.6 L281.5 141.7 L282.5 140.5 L283.5 141.7 L284.5 140.6 L285.5 141.8 L286.5 141.1 L287.5 141.0 L288.5 140.3 L289.5 139.7 L290.5 140.6 L291.5 141.2 L292.5 141.9 L293.5 143.3 L294.5 144.9 L295.5 146.7 L296.5 146.8 L297.5 146.5 L298.5 146.5 L299.5 146.3 L300.5 146.0 L301.5 145.4 L302.5 144.9 L303.5 143.4 L304.5 141.3 L305.5 140.8 L306.5 141.9 L307.5 143.8 L308.5 145.6 L309.5 146.9 L310.5 147.6 L311.5 146.9 L312.5 147.3 L313.5 148.6 L314.5 149.4 L315.5 148.4 L316.5 146.7 L317.5 145.0 L318.5 144.6 L319.5 143.6 L320.5 144.6 L321.5 144.3 L322.5 145.1 L323.5 145.3 L324.5 145.7 L325.5 145.2 L326.5 144.0 L327.5 145.3 L328.5 145.8 L329.5 147.1 L330.5 146.5 L331.5 146.6 L332.5 146.9 L333.5 146.1 L334.5 146.9 L335.5 145.5 L336.5 145.3 L337.5 143.4 L338.5 142.7 L339.5 142.6 L340.5 140.9 L341.5 140.4 L342.5 139.7 L343.5 139.7 L344.5 138.6 L345.5 138.4 L346.5 138.9 L347.5 139.0 L348.5 138.9 L349.5 139.9 L350.5 140.6 L351.5 140.7 L352.5 139.4 L353.5 137.5 L354.5 137.2 L355.5 136.6 L356.5 136.9 L357.5 136.4 L358.5 135.9 L359.5 135.4 L360.5 134.6 L361.5 134.1 L362.5 132.7 L363.5 131.8 L364.5 130.4 L365.5 129.6 L366.5 129.6 L367.5 129.5 L368.5 129.0 L369.5 128.5 L370.5 127.3 L371.5 125.7 L372.5 123.9 L373.5 121.7 L374.5 119.6 L375.5 119.0 L376.5 118.1 L377.5 117.9 L378.5 117.5 L379.5 116.0 L380.5 115.1 L381.5 114.2 L382.5 113.7 L383.5 113.6 L384.5 112.6 L385.5 111.9 L386.5 112.1 L387.5 111.4 L388.5 111.5 L389.5 111.0 L390.5 110.0 L391.5 109.0 L392.5 107.9 L393.5 106.8 L394.5 106.1 L395.5 105.8 L396.5 106.7 L397.5 107.5 L398.5 107.7 L399.5 108.3 L400.5 108.6 L401.5 109.1 L402.5 110.8 L403.5 110.9 L404.5 110.9 L405.5 110.7 L406.5 109.6 L407.5 109.2 L408.5 109.1 L409.5 108.8 L410.5 109.3 L411.5 109.1 L412.5 108.7 L413.5 108.8 L414.5 108.5 L415.5 109.4 L416.5 110.0 L417.5 110.2 L418.5 111.0 L419.5 111.6 L420.5 112.8 L421.5 114.2 L422.5 116.5 L423.5 118.7 L424.5 120.3 L425.5 121.7 L426.5 123.1 L427.5 124.2 L428.5 125.9 L429.5 127.6 L430.5 128.5 L431.5 129.7 L432.5 130.1 L433.5 130.7 L434.5 132.0 L435.5 133.3 L436.5 134.5 L437.5 135.1 L438.5 135.2 L439.5 135.2 L440.5 135.4 L441.5 136.1 L442.5 135.8 L443.5 135.8 L444.5 135.2 L445.5 135.0 L446.5 134.7 L447.5 134.3 L448.5 134.2 L449.5 133.8"/>
</g>
<g clip-path="url(#cc)">
<path d="M450.0 136.4 L451.0 136.7 L452.0 137.5 L453.0 138.9 L454.0 139.0 L455.0 140.2 L456.0 141.0 L457.0 141.2 L458.0 141.3 L459.0 142.2 L460.0 142.7 L461.0 141.9 L462.0 142.0 L463.0 141.0 L464.0 141.5 L465.0 142.2 L466.0 141.8 L467.0 141.6 L468.0 140.8 L469.0 141.6 L470.0 142.4 L471.0 143.2 L472.0 143.9 L473.0 144.6 L474.0 144.5 L475.0 143.8 L476.0 144.8 L477.0 143.3 L478.0 141.5 L479.0 141.0 L480.0 140.7 L481.0 138.4 L482.0 138.3 L483.0 137.9 L484.0 136.8 L485.0 136.8 L486.0 136.1 L487.0 136.3 L488.0 135.9 L489.0 136.5 L490.0 136.4 L491.0 136.3 L492.0 136.1 L493.0 135.5 L494.0 135.2 L495.0 134.2 L496.0 134.4 L497.0 133.4 L498.0 131.8 L499.0 130.8 L500.0 129.9 L501.0 128.9 L502.0 127.0 L503.0 127.1 L504.0 125.6 L505.0 126.3 L506.0 126.3 L507.0 126.4 L508.0 126.2 L509.0 126.4 L510.0 125.8 L511.0 125.0 L512.0 124.6 L513.0 122.2 L514.0 121.4 L515.0 121.5 L516.0 120.6 L517.0 117.5 L518.0 117.2 L519.0 115.8 L520.0 115.1 L521.0 112.2 L522.0 111.2 L523.0 112.8 L524.0 112.7 L525.0 112.8 L526.0 111.3 L527.0 108.1 L528.0 105.3 L529.0 101.9 L530.0 99.0 L531.0 97.1 L532.0 93.7 L533.0 89.3 L534.0 84.4 L535.0 80.4 L536.0 77.0 L537.0 73.8 L538.0 71.0 L539.0 68.8 L540.0 66.8 L541.0 64.7 L542.0 62.7 L543.0 60.7 L544.0 59.3 L545.0 57.4 L546.0 57.1 L547.0 57.5 L548.0 56.7 L549.0 54.0 L550.0 51.0 L551.0 48.4 L552.0 46.3 L553.0 43.7 L554.0 43.3 L555.0 43.2 L556.0 43.5 L557.0 43.1 L558.0 43.9 L559.0 44.5 L560.0 41.9 L561.0 40.2 L562.0 41.3 L563.0 44.0 L564.0 45.7 L565.0 44.8 L566.0 44.9 L567.0 44.3 L568.0 44.8 L569.0 45.7 L570.0 46.1 L571.0 45.9 L572.0 46.6 L573.0 47.4 L574.0 48.4 L575.0 51.1 L576.0 51.8 L577.0 52.3 L578.0 54.4 L579.0 56.1 L580.0 57.1 L581.0 58.9 L582.0 60.6 L583.0 62.2 L584.0 63.8 L585.0 65.7 L586.0 66.4 L587.0 65.4 L588.0 65.8 L589.0 66.9 L590.0 68.3 L591.0 70.9 L592.0 71.8 L593.0 73.0 L594.0 75.3 L595.0 77.1 L596.0 78.2 L597.0 79.1 L598.0 81.4 L599.0 83.7 L600.0 85.2 L601.0 86.9 L602.0 87.6 L603.0 88.4 L604.0 89.5 L605.0 90.0 L606.0 91.4 L607.0 94.7 L608.0 96.9 L609.0 100.4 L610.0 102.0 L611.0 103.3 L612.0 105.5 L613.0 106.2 L614.0 107.4 L615.0 109.2 L616.0 110.5 L617.0 112.5 L618.0 113.5 L619.0 113.9 L620.0 115.0 L621.0 116.4 L622.0 117.7 L623.0 119.2 L624.0 120.4 L625.0 121.7 L626.0 122.7 L627.0 124.0 L628.0 124.9 L629.0 126.2 L630.0 127.3 L631.0 126.7 L632.0 126.8 L633.0 128.0 L634.0 129.1 L635.0 129.9 L636.0 130.9 L637.0 131.2 L638.0 131.3 L639.0 131.3 L640.0 132.0 L641.0 133.4 L642.0 134.2 L643.0 134.0 L644.0 134.5 L645.0 135.7 L646.0 135.6 L647.0 135.8 L648.0 136.5 L649.0 136.3 L650.0 136.7 L651.0 137.6 L652.0 138.2 L653.0 138.7 L654.0 138.1 L655.0 137.6 L656.0 138.4 L657.0 139.1 L658.0 139.2 L659.0 140.5 L660.0 140.7 L661.0 139.7 L662.0 140.0 L663.0 139.9 L664.0 139.5 L665.0 139.7 L666.0 139.4 L667.0 138.9 L668.0 138.9 L669.0 138.8 L670.0 139.8 L671.0 138.9 L672.0 138.2 L673.0 138.2 L674.0 137.6 L675.0 138.5 L676.0 138.6 L677.0 137.6 L678.0 137.2 L679.0 137.7 L680.0 137.6 L681.0 137.3"/>
<path d="M450.0 142.1 L451.0 140.9 L452.0 139.5 L453.0 140.0 L454.0 139.6 L455.0 140.3 L456.0 141.3 L457.0 141.8 L458.0 141.6 L459.0 142.0 L460.0 144.1 L461.0 143.3 L462.0 144.0 L463.0 143.1 L464.0 143.1 L465.0 143.0 L466.0 141.7 L467.0 142.5 L468.0 141.5 L469.0 141.9 L470.0 143.2 L471.0 143.9 L472.0 144.6 L473.0 143.7 L474.0 144.4 L475.0 146.5 L476.0 146.9 L477.0 146.2 L478.0 145.6 L479.0 145.5 L480.0 144.3 L481.0 144.0 L482.0 143.4 L483.0 141.6 L484.0 142.6 L485.0 142.3 L486.0 142.5 L487.0 142.7 L488.0 141.9 L489.0 140.8 L490.0 139.0 L491.0 138.8 L492.0 137.8 L493.0 136.9 L494.0 136.6 L495.0 135.9 L496.0 134.0 L497.0 132.9 L498.0 133.4 L499.0 134.1 L500.0 133.7 L501.0 134.0 L502.0 133.4 L503.0 131.9 L504.0 130.8 L505.0 130.2 L506.0 128.3 L507.0 127.9 L508.0 127.2 L509.0 126.1 L510.0 126.3 L511.0 124.7 L512.0 124.3 L513.0 124.3 L514.0 123.1 L515.0 121.3 L516.0 121.7 L517.0 121.6 L518.0 120.0 L519.0 118.4 L520.0 118.7 L521.0 118.6 L522.0 118.2 L523.0 116.6 L524.0 116.0 L525.0 115.1 L526.0 114.0 L527.0 113.1 L528.0 109.9 L529.0 107.7 L530.0 105.0 L531.0 102.1 L532.0 99.6 L533.0 96.6 L534.0 92.5 L535.0 88.9 L536.0 85.7 L537.0 82.4 L538.0 78.6 L539.0 74.3 L540.0 72.5 L541.0 71.5 L542.0 69.7 L543.0 68.1 L544.0 66.7 L545.0 64.5 L546.0 62.4 L547.0 60.8 L548.0 58.0 L549.0 55.6 L550.0 52.9 L551.0 50.3 L552.0 48.8 L553.0 46.6 L554.0 44.3 L555.0 43.2 L556.0 43.0 L557.0 42.5 L558.0 41.8 L559.0 42.4 L560.0 42.8 L561.0 42.0 L562.0 41.2 L563.0 42.5 L564.0 44.8 L565.0 46.1 L566.0 45.9 L567.0 45.8 L568.0 45.5 L569.0 45.9 L570.0 46.7 L571.0 48.5 L572.0 49.0 L573.0 48.9 L574.0 49.9 L575.0 51.9 L576.0 54.1 L577.0 54.6 L578.0 55.7 L579.0 57.7 L580.0 59.5 L581.0 61.0 L582.0 61.9 L583.0 63.6 L584.0 66.8 L585.0 69.3 L586.0 70.5 L587.0 72.0 L588.0 73.4 L589.0 75.0 L590.0 77.0 L591.0 78.7 L592.0 80.4 L593.0 81.2 L594.0 82.4 L595.0 84.6 L596.0 85.8 L597.0 87.0 L598.0 88.9 L599.0 90.1 L600.0 91.6 L601.0 92.6 L602.0 93.3 L603.0 94.4 L604.0 96.1 L605.0 97.7 L606.0 99.3 L607.0 101.0 L608.0 102.5 L609.0 103.8 L610.0 105.2 L611.0 106.8 L612.0 107.7 L613.0 109.1 L614.0 110.4 L615.0 112.2 L616.0 113.7 L617.0 115.5 L618.0 116.9 L619.0 118.0 L620.0 119.1 L621.0 119.4 L622.0 120.5 L623.0 121.4 L624.0 121.7 L625.0 122.6 L626.0 123.8 L627.0 124.7 L628.0 125.8 L629.0 126.1 L630.0 127.1 L631.0 128.6 L632.0 129.5 L633.0 130.1 L634.0 131.1 L635.0 131.9 L636.0 131.4 L637.0 131.8 L638.0 132.8 L639.0 133.9 L640.0 134.9 L641.0 134.8 L642.0 135.2 L643.0 136.0 L644.0 135.9 L645.0 136.5 L646.0 137.0 L647.0 137.3 L648.0 138.0 L649.0 138.1 L650.0 138.4 L651.0 139.3 L652.0 139.4 L653.0 138.8 L654.0 139.2 L655.0 139.6 L656.0 139.2 L657.0 139.4 L658.0 139.9 L659.0 140.1 L660.0 140.9 L661.0 140.7 L662.0 140.6 L663.0 141.5 L664.0 141.3 L665.0 140.2 L666.0 140.2 L667.0 141.3 L668.0 141.6 L669.0 141.6 L670.0 140.9 L671.0 139.8 L672.0 139.9 L673.0 140.4 L674.0 140.3 L675.0 140.0 L676.0 139.6 L677.0 139.9 L678.0 140.0 L679.0 139.7 L680.0 139.3 L681.0 139.8"/>
<path d="M450.0 138.7 L451.0 140.3 L452.0 140.4 L453.0 140.8 L454.0 143.3 L455.0 144.5 L456.0 142.8 L457.0 142.8 L458.0 145.5 L459.0 144.5 L460.0 144.2 L461.0 144.5 L462.0 144.8 L463.0 147.7 L464.0 149.1 L465.0 149.4 L466.0 149.7 L467.0 149.4 L468.0 149.9 L469.0 150.5 L470.0 150.7 L471.0 149.0 L472.0 148.3 L473.0 148.3 L474.0 148.5 L475.0 148.7 L476.0 148.6 L477.0 149.0 L478.0 149.4 L479.0 147.6 L480.0 146.7 L481.0 147.3 L482.0 147.3 L483.0 147.0 L484.0 146.8 L485.0 145.8 L486.0 144.9 L487.0 144.2 L488.0 143.4 L489.0 142.7 L490.0 141.7 L491.0 140.8 L492.0 139.5 L493.0 139.5 L494.0 139.0 L495.0 138.0 L496.0 136.2 L497.0 134.8 L498.0 135.0 L499.0 136.9 L500.0 136.1 L501.0 135.4 L502.0 134.0 L503.0 134.0 L504.0 134.8 L505.0 134.2 L506.0 133.0 L507.0 130.3 L508.0 129.5 L509.0 129.5 L510.0 128.1 L511.0 125.9 L512.0 126.0 L513.0 126.0 L514.0 124.6 L515.0 123.4 L516.0 122.7 L517.0 121.2 L518.0 120.8 L519.0 120.8 L520.0 119.9 L521.0 119.5 L522.0 118.2 L523.0 119.0 L524.0 118.4 L525.0 117.1 L526.0 115.8 L527.0 115.4 L528.0 112.5 L529.0 109.1 L530.0 105.6 L531.0 102.5 L532.0 99.6 L533.0 97.6 L534.0 92.8 L535.0 87.7 L536.0 83.7 L537.0 79.3 L538.0 75.1 L539.0 73.0 L540.0 70.5 L541.0 68.6 L542.0 67.1 L543.0 65.5 L544.0 63.9 L545.0 62.2 L546.0 61.6 L547.0 60.5 L548.0 58.4 L549.0 59.4 L550.0 59.7 L551.0 58.7 L552.0 58.9 L553.0 59.5 L554.0 59.5 L555.0 58.3 L556.0 57.2 L557.0 56.5 L558.0 56.6 L559.0 56.7 L560.0 55.4 L561.0 54.0 L562.0 53.6 L563.0 53.7 L564.0 53.8 L565.0 53.4 L566.0 52.9 L567.0 54.1 L568.0 54.8 L569.0 54.8 L570.0 55.8 L571.0 57.5 L572.0 58.4 L573.0 60.4 L574.0 62.4 L575.0 63.6 L576.0 64.1 L577.0 64.6 L578.0 65.9 L579.0 67.4 L580.0 68.6 L581.0 69.8 L582.0 71.0 L583.0 72.6 L584.0 74.2 L585.0 75.6 L586.0 77.0 L587.0 77.8 L588.0 78.8 L589.0 80.5 L590.0 82.4 L591.0 83.5 L592.0 85.1 L593.0 86.5 L594.0 87.8 L595.0 89.5 L596.0 90.9 L597.0 92.5 L598.0 93.3 L599.0 94.0 L600.0 95.9 L601.0 97.9 L602.0 99.4 L603.0 99.6 L604.0 100.8 L605.0 103.0 L606.0 104.3 L607.0 105.6 L608.0 107.7 L609.0 108.3 L610.0 108.5 L611.0 110.1 L612.0 111.6 L613.0 113.1 L614.0 114.7 L615.0 115.8 L616.0 117.1 L617.0 118.2 L618.0 118.6 L619.0 120.4 L620.0 122.6 L621.0 123.1 L622.0 123.5 L623.0 124.0 L624.0 124.5 L625.0 125.6 L626.0 127.0 L627.0 127.4 L628.0 128.0 L629.0 129.1 L630.0 129.9 L631.0 131.1 L632.0 131.7 L633.0 132.4 L634.0 133.6 L635.0 134.4 L636.0 134.8 L637.0 134.6 L638.0 134.2 L639.0 134.1 L640.0 135.3 L641.0 136.6 L642.0 137.4 L643.0 137.4 L644.0 137.3 L645.0 138.6 L646.0 139.2 L647.0 138.7 L648.0 138.5 L649.0 139.4 L650.0 140.7 L651.0 141.1 L652.0 141.7 L653.0 141.3 L654.0 141.4 L655.0 142.6 L656.0 142.6 L657.0 142.5 L658.0 142.5 L659.0 142.7 L660.0 142.5 L661.0 142.0 L662.0 142.5 L663.0 142.4 L664.0 142.0 L665.0 142.6 L666.0 142.8 L667.0 142.3 L668.0 142.2 L669.0 142.6 L670.0 142.4 L671.0 141.9 L672.0 141.8 L673.0 141.6 L674.0 142.0 L675.0 142.1 L676.0 142.2 L677.0 141.9 L678.0 141.2 L679.0 141.0 L680.0 141.7 L681.0 142.4"/>
<path d="M450.0 135.0 L451.0 135.9 L452.0 136.7 L453.0 138.3 L454.0 139.1 L455.0 140.5 L456.0 140.5 L457.0 142.3 L458.0 142.0 L459.0 143.4 L460.0 143.1 L461.0 142.7 L462.0 143.4 L463.0 143.3 L464.0 144.2 L465.0 143.6 L466.0 144.2 L467.0 142.9 L468.0 144.3 L469.0 144.9 L470.0 144.2 L471.0 144.3 L472.0 143.6 L473.0 143.1 L474.0 143.6 L475.0 144.3 L476.0 144.9 L477.0 143.9 L478.0 142.6 L479.0 142.9 L480.0 144.3 L481.0 144.4 L482.0 143.6 L483.0 142.7 L484.0 141.7 L485.0 140.0 L486.0 140.1 L487.0 139.6 L488.0 138.1 L489.0 137.7 L490.0 137.0 L491.0 136.3 L492.0 134.7 L493.0 135.5 L494.0 136.5 L495.0 136.3 L496.0 135.7 L497.0 133.7 L498.0 132.4 L499.0 130.9 L500.0 130.8 L501.0 130.9 L502.0 129.6 L503.0 130.8 L504.0 129.9 L505.0 128.6 L506.0 129.9 L507.0 130.1 L508.0 127.8 L509.0 127.9 L510.0 127.7 L511.0 126.7 L512.0 125.6 L513.0 124.7 L514.0 123.6 L515.0 122.4 L516.0 122.9 L517.0 121.0 L518.0 118.7 L519.0 118.3 L520.0 118.1 L521.0 117.4 L522.0 116.0 L523.0 114.7 L524.0 112.9 L525.0 110.7 L526.0 109.7 L527.0 108.5 L528.0 106.4 L529.0 105.0 L530.0 103.8 L531.0 102.0 L532.0 99.8 L533.0 98.5 L534.0 97.4 L535.0 96.3 L536.0 94.3 L537.0 92.1 L538.0 90.7 L539.0 89.7 L540.0 89.0 L541.0 87.2 L542.0 85.2 L543.0 83.3 L544.0 81.6 L545.0 81.1 L546.0 80.3 L547.0 79.3 L548.0 78.3 L549.0 78.1 L550.0 77.8 L551.0 76.0 L552.0 74.3 L553.0 73.6 L554.0 72.8 L555.0 72.2 L556.0 72.0 L557.0 70.6 L558.0 68.7 L559.0 67.2 L560.0 66.6 L561.0 67.5 L562.0 67.2 L563.0 66.4 L564.0 66.1 L565.0 66.3 L566.0 67.1 L567.0 66.9 L568.0 66.7 L569.0 66.8 L570.0 67.0 L571.0 68.0 L572.0 69.8 L573.0 70.8 L574.0 71.7 L575.0 72.9 L576.0 73.6 L577.0 75.1 L578.0 77.7 L579.0 79.1 L580.0 80.3 L581.0 82.4 L582.0 83.5 L583.0 84.5 L584.0 86.0 L585.0 87.6 L586.0 89.2 L587.0 90.5 L588.0 91.5 L589.0 92.7 L590.0 93.9 L591.0 94.4 L592.0 95.6 L593.0 97.0 L594.0 98.7 L595.0 100.2 L596.0 101.0 L597.0 101.8 L598.0 103.2 L599.0 104.4 L600.0 105.4 L601.0 106.6 L602.0 108.0 L603.0 109.0 L604.0 110.2 L605.0 111.6 L606.0 112.8 L607.0 113.6 L608.0 113.3 L609.0 114.7 L610.0 117.2 L611.0 117.1 L612.0 118.7 L613.0 121.1 L614.0 121.9 L615.0 120.6 L616.0 120.9 L617.0 121.9 L618.0 121.8 L619.0 122.2 L620.0 122.0 L621.0 122.2 L622.0 123.4 L623.0 125.4 L624.0 126.7 L625.0 128.1 L626.0 128.6 L627.0 128.8 L628.0 129.7 L629.0 129.6 L630.0 129.2 L631.0 129.9 L632.0 129.3 L633.0 130.2 L634.0 131.0 L635.0 132.8 L636.0 133.4 L637.0 134.5 L638.0 136.8 L639.0 138.5 L640.0 139.8 L641.0 140.6 L642.0 142.8 L643.0 142.1 L644.0 142.5 L645.0 141.0 L646.0 141.5 L647.0 142.2 L648.0 142.1 L649.0 141.7 L650.0 141.6 L651.0 142.8 L652.0 142.3 L653.0 143.6 L654.0 143.1 L655.0 143.6 L656.0 144.5 L657.0 146.2 L658.0 147.2 L659.0 145.9 L660.0 146.5 L661.0 145.7 L662.0 146.3 L663.0 146.9 L664.0 146.1 L665.0 145.8 L666.0 146.7 L667.0 147.8 L668.0 147.3 L669.0 146.8 L670.0 146.1 L671.0 146.5 L672.0 146.4 L673.0 146.4 L674.0 146.0 L675.0 146.6 L676.0 146.6 L677.0 145.9 L678.0 145.2 L679.0 145.1 L680.0 145.2 L681.0 145.0"/>
<path d="M450.0 139.0 L451.0 138.3 L452.0 138.8 L453.0 140.2 L454.0 141.5 L455.0 141.4 L456.0 141.5 L457.0 141.2 L458.0 141.2 L459.0 142.8 L460.0 142.5 L461.0 142.0 L462.0 141.8 L463.0 142.4 L464.0 144.3 L465.0 145.1 L466.0 145.3 L467.0 145.0 L468.0 145.0 L469.0 146.2 L470.0 145.5 L471.0 145.6 L472.0 145.2 L473.0 144.6 L474.0 144.4 L475.0 145.0 L476.0 146.7 L477.0 146.1 L478.0 144.4 L479.0 142.6 L480.0 142.1 L481.0 142.0 L482.0 141.1 L483.0 141.5 L484.0 141.3 L485.0 140.1 L486.0 142.0 L487.0 143.4 L488.0 141.7 L489.0 140.7 L490.0 141.8 L491.0 141.9 L492.0 140.2 L493.0 139.3 L494.0 137.5 L495.0 135.4 L496.0 134.8 L497.0 132.7 L498.0 132.6 L499.0 132.2 L500.0 130.5 L501.0 129.5 L502.0 130.8 L503.0 131.0 L504.0 129.6 L505.0 127.4 L506.0 125.6 L507.0 125.1 L508.0 124.6 L509.0 126.0 L510.0 125.9 L511.0 123.8 L512.0 123.9 L513.0 125.1 L514.0 124.3 L515.0 121.8 L516.0 119.8 L517.0 119.6 L518.0 118.4 L519.0 118.1 L520.0 115.5 L521.0 115.0 L522.0 115.1 L523.0 114.5 L524.0 114.5 L525.0 112.1 L526.0 110.4 L527.0 109.2 L528.0 108.6 L529.0 106.7 L530.0 104.3 L531.0 102.7 L532.0 101.0 L533.0 99.2 L534.0 97.4 L535.0 96.3 L536.0 95.6 L537.0 93.8 L538.0 91.0 L539.0 89.6 L540.0 88.2 L541.0 87.5 L542.0 87.0 L543.0 85.3 L544.0 83.7 L545.0 82.7 L546.0 81.6 L547.0 80.9 L548.0 79.2 L549.0 77.6 L550.0 77.3 L551.0 76.5 L552.0 76.1 L553.0 75.5 L554.0 73.6 L555.0 72.6 L556.0 72.0 L557.0 71.4 L558.0 71.7 L559.0 70.9 L560.0 69.1 L561.0 68.7 L562.0 68.6 L563.0 68.6 L564.0 69.1 L565.0 69.1 L566.0 68.9 L567.0 68.5 L568.0 68.8 L569.0 69.7 L570.0 70.0 L571.0 69.5 L572.0 69.3 L573.0 68.9 L574.0 68.4 L575.0 68.2 L576.0 67.3 L577.0 66.6 L578.0 65.8 L579.0 66.1 L580.0 67.0 L581.0 66.0 L582.0 65.2 L583.0 65.7 L584.0 65.6 L585.0 65.1 L586.0 65.5 L587.0 66.3 L588.0 68.2 L589.0 70.3 L590.0 72.0 L591.0 73.5 L592.0 75.7 L593.0 77.2 L594.0 78.9 L595.0 80.5 L596.0 82.8 L597.0 84.8 L598.0 86.3 L599.0 88.6 L600.0 91.4 L601.0 93.7 L602.0 95.2 L603.0 96.5 L604.0 98.4 L605.0 101.0 L606.0 102.0 L607.0 103.5 L608.0 105.8 L609.0 107.6 L610.0 108.8 L611.0 110.1 L612.0 110.3 L613.0 111.8 L614.0 111.5 L615.0 113.6 L616.0 114.2 L617.0 115.4 L618.0 117.0 L619.0 118.5 L620.0 119.0 L621.0 119.1 L622.0 121.1 L623.0 121.1 L624.0 120.8 L625.0 120.9 L626.0 121.4 L627.0 122.3 L628.0 123.2 L629.0 123.4 L630.0 123.2 L631.0 123.6 L632.0 125.5 L633.0 126.7 L634.0 126.7 L635.0 127.7 L636.0 128.8 L637.0 129.3 L638.0 131.5 L639.0 132.2 L640.0 132.0 L641.0 133.7 L642.0 134.9 L643.0 135.4 L644.0 135.7 L645.0 136.5 L646.0 136.6 L647.0 136.0 L648.0 136.8 L649.0 136.4 L650.0 136.4 L651.0 135.9 L652.0 135.9 L653.0 135.2 L654.0 135.2 L655.0 136.6 L656.0 137.1 L657.0 138.7 L658.0 140.1 L659.0 139.7 L660.0 140.7 L661.0 142.4 L662.0 142.1 L663.0 141.9 L664.0 141.9 L665.0 141.9 L666.0 141.3 L667.0 142.4 L668.0 141.1 L669.0 139.8 L670.0 140.7 L671.0 141.2 L672.0 141.9 L673.0 141.5 L674.0 140.8 L675.0 139.6 L676.0 139.2 L677.0 138.5 L678.0 139.3 L679.0 139.2 L680.0 137.4 L681.0 137.6"/>
<path d="M450.0 138.8 L451.0 139.9 L452.0 140.2 L453.0 140.3 L454.0 142.5 L455.0 142.4 L456.0 141.0 L457.0 142.7 L458.0 142.8 L459.0 143.1 L460.0 143.0 L461.0 144.1 L462.0 143.9 L463.0 143.8 L464.0 146.1 L465.0 145.9 L466.0 146.9 L467.0 145.7 L468.0 146.1 L469.0 145.5 L470.0 145.5 L471.0 145.8 L472.0 147.0 L473.0 147.3 L474.0 146.9 L475.0 147.1 L476.0 147.6 L477.0 148.4 L478.0 145.8 L479.0 144.8 L480.0 144.8 L481.0 144.6 L482.0 144.0 L483.0 142.6 L484.0 143.1 L485.0 141.8 L486.0 141.1 L487.0 141.6 L488.0 141.4 L489.0 140.8 L490.0 139.6 L491.0 139.1 L492.0 138.4 L493.0 139.9 L494.0 140.3 L495.0 139.3 L496.0 138.2 L497.0 136.7 L498.0 136.5 L499.0 134.4 L500.0 133.7 L501.0 133.2 L502.0 132.7 L503.0 131.5 L504.0 129.6 L505.0 130.3 L506.0 130.0 L507.0 129.7 L508.0 129.7 L509.0 128.6 L510.0 127.1 L511.0 126.2 L512.0 126.8 L513.0 125.7 L514.0 124.9 L515.0 126.1 L516.0 125.6 L517.0 126.4 L518.0 123.4 L519.0 121.2 L520.0 119.9 L521.0 119.6 L522.0 117.9 L523.0 115.2 L524.0 113.6 L525.0 111.9 L526.0 110.5 L527.0 109.3 L528.0 107.6 L529.0 106.0 L530.0 105.0 L531.0 102.8 L532.0 101.5 L533.0 100.6 L534.0 98.7 L535.0 97.0 L536.0 95.6 L537.0 94.3 L538.0 94.1 L539.0 92.3 L540.0 90.4 L541.0 89.3 L542.0 87.6 L543.0 86.6 L544.0 85.3 L545.0 84.3 L546.0 83.7 L547.0 82.6 L548.0 81.5 L549.0 80.4 L550.0 78.8 L551.0 77.3 L552.0 76.1 L553.0 75.8 L554.0 74.9 L555.0 74.0 L556.0 72.7 L557.0 70.8 L558.0 70.2 L559.0 69.1 L560.0 67.1 L561.0 66.4 L562.0 66.8 L563.0 67.0 L564.0 67.0 L565.0 66.5 L566.0 67.6 L567.0 68.2 L568.0 67.6 L569.0 68.8 L570.0 70.5 L571.0 71.4 L572.0 71.4 L573.0 72.4 L574.0 74.4 L575.0 74.6 L576.0 75.7 L577.0 77.1 L578.0 77.9 L579.0 80.0 L580.0 82.5 L581.0 83.3 L582.0 83.7 L583.0 85.0 L584.0 86.4 L585.0 87.5 L586.0 90.2 L587.0 91.7 L588.0 91.5 L589.0 92.7 L590.0 94.0 L591.0 95.5 L592.0 96.4 L593.0 96.7 L594.0 98.1 L595.0 99.7 L596.0 100.9 L597.0 101.5 L598.0 103.0 L599.0 104.7 L600.0 105.2 L601.0 106.0 L602.0 106.8 L603.0 108.7 L604.0 110.2 L605.0 110.2 L606.0 112.4 L607.0 113.8 L608.0 113.8 L609.0 114.6 L610.0 115.5 L611.0 115.9 L612.0 115.8 L613.0 116.7 L614.0 118.2 L615.0 120.0 L616.0 121.5 L617.0 122.3 L618.0 122.0 L619.0 122.4 L620.0 124.2 L621.0 124.7 L622.0 124.2 L623.0 124.7 L624.0 125.4 L625.0 125.1 L626.0 126.2 L627.0 127.3 L628.0 127.8 L629.0 127.7 L630.0 128.3 L631.0 130.7 L632.0 130.8 L633.0 131.6 L634.0 132.0 L635.0 133.3 L636.0 135.2 L637.0 137.5 L638.0 138.9 L639.0 138.5 L640.0 139.8 L641.0 140.4 L642.0 139.8 L643.0 139.8 L644.0 140.2 L645.0 139.5 L646.0 140.0 L647.0 140.4 L648.0 140.4 L649.0 141.8 L650.0 142.9 L651.0 142.9 L652.0 143.1 L653.0 144.0 L654.0 144.0 L655.0 144.3 L656.0 143.3 L657.0 142.5 L658.0 144.3 L659.0 144.6 L660.0 145.1 L661.0 144.3 L662.0 145.1 L663.0 144.4 L664.0 143.8 L665.0 145.1 L666.0 144.5 L667.0 145.8 L668.0 145.1 L669.0 144.1 L670.0 143.0 L671.0 144.1 L672.0 144.1 L673.0 144.4 L674.0 145.4 L675.0 145.0 L676.0 144.8 L677.0 143.5 L678.0 144.7 L679.0 144.4 L680.0 144.4 L681.0 143.9"/>
<path d="M450.0 146.2 L451.0 146.0 L452.0 146.0 L453.0 144.0 L454.0 143.9 L455.0 142.1 L456.0 141.7 L457.0 141.6 L458.0 142.9 L459.0 143.2 L460.0 142.2 L461.0 144.4 L462.0 144.6 L463.0 145.0 L464.0 145.7 L465.0 148.1 L466.0 148.3 L467.0 147.5 L468.0 147.8 L469.0 149.9 L470.0 149.4 L471.0 148.7 L472.0 148.6 L473.0 147.8 L474.0 146.0 L475.0 147.3 L476.0 148.5 L477.0 145.0 L478.0 145.3 L479.0 145.9 L480.0 144.8 L481.0 143.8 L482.0 144.2 L483.0 144.3 L484.0 141.9 L485.0 142.5 L486.0 142.4 L487.0 141.2 L488.0 140.2 L489.0 140.7 L490.0 141.2 L491.0 141.2 L492.0 141.8 L493.0 142.2 L494.0 142.1 L495.0 141.2 L496.0 141.0 L497.0 139.6 L498.0 138.1 L499.0 136.8 L500.0 135.6 L501.0 135.9 L502.0 135.9 L503.0 135.0 L504.0 133.9 L505.0 132.9 L506.0 132.4 L507.0 130.2 L508.0 127.7 L509.0 125.9 L510.0 124.5 L511.0 122.6 L512.0 121.6 L513.0 120.9 L514.0 120.9 L515.0 120.6 L516.0 120.3 L517.0 119.3 L518.0 118.4 L519.0 118.0 L520.0 117.5 L521.0 117.1 L522.0 116.4 L523.0 115.2 L524.0 114.3 L525.0 114.2 L526.0 113.6 L527.0 112.6 L528.0 112.2 L529.0 111.9 L530.0 111.1 L531.0 110.5 L532.0 109.4 L533.0 108.5 L534.0 107.6 L535.0 106.7 L536.0 107.2 L537.0 106.7 L538.0 106.0 L539.0 105.3 L540.0 103.7 L541.0 103.9 L542.0 103.7 L543.0 102.7 L544.0 101.7 L545.0 100.3 L546.0 100.6 L547.0 100.2 L548.0 98.8 L549.0 98.1 L550.0 97.9 L551.0 96.4 L552.0 94.9 L553.0 95.0 L554.0 93.9 L555.0 92.6 L556.0 92.5 L557.0 91.6 L558.0 89.8 L559.0 88.7 L560.0 89.1 L561.0 89.3 L562.0 89.0 L563.0 88.1 L564.0 87.5 L565.0 87.3 L566.0 86.6 L567.0 86.4 L568.0 85.6 L569.0 86.7 L570.0 87.1 L571.0 87.7 L572.0 88.6 L573.0 88.3 L574.0 89.5 L575.0 90.9 L576.0 92.0 L577.0 92.8 L578.0 93.7 L579.0 95.7 L580.0 97.0 L581.0 97.8 L582.0 98.0 L583.0 98.1 L584.0 99.8 L585.0 100.7 L586.0 101.0 L587.0 102.4 L588.0 104.0 L589.0 104.9 L590.0 105.7 L591.0 106.7 L592.0 108.3 L593.0 109.5 L594.0 109.9 L595.0 110.2 L596.0 111.0 L597.0 111.4 L598.0 111.7 L599.0 112.7 L600.0 113.0 L601.0 113.3 L602.0 114.3 L603.0 115.7 L604.0 116.7 L605.0 118.0 L606.0 120.1 L607.0 121.2 L608.0 121.7 L609.0 123.1 L610.0 124.7 L611.0 125.0 L612.0 125.5 L613.0 126.3 L614.0 125.9 L615.0 126.0 L616.0 127.4 L617.0 129.2 L618.0 129.1 L619.0 129.0 L620.0 129.5 L621.0 129.3 L622.0 130.4 L623.0 131.3 L624.0 131.0 L625.0 130.7 L626.0 131.3 L627.0 132.2 L628.0 132.3 L629.0 132.0 L630.0 132.5 L631.0 133.5 L632.0 134.4 L633.0 135.0 L634.0 135.4 L635.0 135.7 L636.0 135.8 L637.0 137.1 L638.0 138.4 L639.0 139.3 L640.0 139.8 L641.0 139.9 L642.0 139.8 L643.0 140.4 L644.0 141.3 L645.0 141.4 L646.0 141.5 L647.0 141.7 L648.0 141.9 L649.0 142.7 L650.0 143.2 L651.0 143.7 L652.0 144.9 L653.0 145.6 L654.0 146.7 L655.0 147.7 L656.0 148.1 L657.0 148.4 L658.0 148.2 L659.0 148.2 L660.0 148.4 L661.0 147.9 L662.0 147.7 L663.0 147.9 L664.0 148.2 L665.0 147.8 L666.0 147.1 L667.0 145.9 L668.0 146.2 L669.0 147.1 L670.0 146.9 L671.0 146.3 L672.0 146.2 L673.0 146.6 L674.0 146.3 L675.0 146.3 L676.0 146.5 L677.0 146.4 L678.0 145.6 L679.0 145.4 L680.0 145.8 L681.0 145.7"/>
<path d="M450.0 146.2 L451.0 146.2 L452.0 146.2 L453.0 147.8 L454.0 147.9 L455.0 148.9 L456.0 149.3 L457.0 149.2 L458.0 149.3 L459.0 149.6 L460.0 149.9 L461.0 149.3 L462.0 149.1 L463.0 149.2 L464.0 148.3 L465.0 148.5 L466.0 148.9 L467.0 149.3 L468.0 149.2 L469.0 149.7 L470.0 151.1 L471.0 151.4 L472.0 152.4 L473.0 151.7 L474.0 150.9 L475.0 150.2 L476.0 150.3 L477.0 149.3 L478.0 149.0 L479.0 150.0 L480.0 149.7 L481.0 149.2 L482.0 148.2 L483.0 149.0 L484.0 149.6 L485.0 149.5 L486.0 148.1 L487.0 147.9 L488.0 147.9 L489.0 147.0 L490.0 147.9 L491.0 146.4 L492.0 145.8 L493.0 143.6 L494.0 141.3 L495.0 139.6 L496.0 137.5 L497.0 136.2 L498.0 134.9 L499.0 133.8 L500.0 132.2 L501.0 133.1 L502.0 133.1 L503.0 132.8 L504.0 133.1 L505.0 133.3 L506.0 132.2 L507.0 130.5 L508.0 130.1 L509.0 128.4 L510.0 128.2 L511.0 129.6 L512.0 129.3 L513.0 126.7 L514.0 125.0 L515.0 124.7 L516.0 123.2 L517.0 121.9 L518.0 121.4 L519.0 120.9 L520.0 120.1 L521.0 120.1 L522.0 119.4 L523.0 118.7 L524.0 118.3 L525.0 117.2 L526.0 116.5 L527.0 116.0 L528.0 115.7 L529.0 114.9 L530.0 114.6 L531.0 115.0 L532.0 114.7 L533.0 113.8 L534.0 113.3 L535.0 112.5 L536.0 111.4 L537.0 110.8 L538.0 110.2 L539.0 109.8 L540.0 109.6 L541.0 109.4 L542.0 108.7 L543.0 108.5 L544.0 108.1 L545.0 107.8 L546.0 107.9 L547.0 106.8 L548.0 106.5 L549.0 106.1 L550.0 104.8 L551.0 104.7 L552.0 103.6 L553.0 102.4 L554.0 102.4 L555.0 102.9 L556.0 102.6 L557.0 103.1 L558.0 103.8 L559.0 103.9 L560.0 104.2 L561.0 104.8 L562.0 104.9 L563.0 103.9 L564.0 103.3 L565.0 103.4 L566.0 104.1 L567.0 104.4 L568.0 103.7 L569.0 102.8 L570.0 102.0 L571.0 101.6 L572.0 101.6 L573.0 101.0 L574.0 99.9 L575.0 99.6 L576.0 100.5 L577.0 100.5 L578.0 100.9 L579.0 101.2 L580.0 101.1 L581.0 101.2 L582.0 101.4 L583.0 102.9 L584.0 103.5 L585.0 104.1 L586.0 104.7 L587.0 104.3 L588.0 103.4 L589.0 104.3 L590.0 105.3 L591.0 106.6 L592.0 107.7 L593.0 108.3 L594.0 108.9 L595.0 109.5 L596.0 110.3 L597.0 110.9 L598.0 111.9 L599.0 112.2 L600.0 112.1 L601.0 112.7 L602.0 113.8 L603.0 114.9 L604.0 114.6 L605.0 114.5 L606.0 115.1 L607.0 115.9 L608.0 116.8 L609.0 117.9 L610.0 118.8 L611.0 120.0 L612.0 121.2 L613.0 121.1 L614.0 121.2 L615.0 122.2 L616.0 124.2 L617.0 124.5 L618.0 124.6 L619.0 126.1 L620.0 126.9 L621.0 127.8 L622.0 129.2 L623.0 129.1 L624.0 129.1 L625.0 130.2 L626.0 132.5 L627.0 131.7 L628.0 132.7 L629.0 133.9 L630.0 134.3 L631.0 135.2 L632.0 135.5 L633.0 135.7 L634.0 136.6 L635.0 137.5 L636.0 137.8 L637.0 138.2 L638.0 139.0 L639.0 140.0 L640.0 140.7 L641.0 141.9 L642.0 142.8 L643.0 143.5 L644.0 143.6 L645.0 144.9 L646.0 145.5 L647.0 144.5 L648.0 144.7 L649.0 144.8 L650.0 144.8 L651.0 145.7 L652.0 145.2 L653.0 144.3 L654.0 144.5 L655.0 144.1 L656.0 144.9 L657.0 146.4 L658.0 146.7 L659.0 146.4 L660.0 147.2 L661.0 146.6 L662.0 146.1 L663.0 145.5 L664.0 146.0 L665.0 145.9 L666.0 146.1 L667.0 146.8 L668.0 146.3 L669.0 147.7 L670.0 146.4 L671.0 146.4 L672.0 146.2 L673.0 145.5 L674.0 144.6 L675.0 143.8 L676.0 144.2 L677.0 145.1 L678.0 145.2 L679.0 145.2 L680.0 144.6 L681.0 143.3"/>
<path d="M450.0 146.0 L451.0 145.3 L452.0 144.8 L453.0 143.5 L454.0 142.7 L455.0 141.8 L456.0 141.2 L457.0 141.1 L458.0 140.5 L459.0 140.5 L460.0 141.0 L461.0 140.5 L462.0 142.6 L463.0 142.7 L464.0 142.8 L465.0 142.4 L466.0 142.3 L467.0 143.1 L468.0 143.3 L469.0 144.0 L470.0 145.2 L471.0 147.1 L472.0 146.5 L473.0 146.9 L474.0 149.1 L475.0 148.5 L476.0 147.8 L477.0 147.9 L478.0 145.2 L479.0 143.9 L480.0 144.2 L481.0 143.2 L482.0 142.3 L483.0 142.3 L484.0 142.7 L485.0 142.2 L486.0 142.9 L487.0 143.1 L488.0 144.2 L489.0 144.4 L490.0 143.9 L491.0 144.9 L492.0 144.6 L493.0 143.3 L494.0 142.8 L495.0 141.3 L496.0 141.4 L497.0 141.5 L498.0 141.0 L499.0 140.6 L500.0 139.9 L501.0 140.2 L502.0 138.8 L503.0 139.4 L504.0 140.3 L505.0 141.1 L506.0 141.5 L507.0 141.6 L508.0 142.1 L509.0 142.6 L510.0 142.3 L511.0 141.5 L512.0 140.8 L513.0 139.4 L514.0 138.0 L515.0 137.2 L516.0 136.3 L517.0 135.3 L518.0 134.3 L519.0 133.6 L520.0 132.6 L521.0 131.4 L522.0 129.5 L523.0 128.9 L524.0 128.4 L525.0 126.4 L526.0 125.6 L527.0 124.8 L528.0 123.3 L529.0 122.1 L530.0 121.3 L531.0 120.2 L532.0 119.2 L533.0 119.0 L534.0 118.7 L535.0 117.4 L536.0 115.9 L537.0 114.9 L538.0 114.6 L539.0 113.7 L540.0 112.8 L541.0 111.9 L542.0 111.0 L543.0 110.6 L544.0 110.2 L545.0 109.5 L546.0 107.9 L547.0 107.3 L548.0 107.7 L549.0 107.3 L550.0 106.8 L551.0 106.2 L552.0 105.8 L553.0 106.1 L554.0 107.7 L555.0 109.4 L556.0 109.7 L557.0 109.5 L558.0 109.5 L559.0 109.7 L560.0 110.1 L561.0 110.5 L562.0 109.5 L563.0 109.3 L564.0 109.5 L565.0 109.1 L566.0 109.8 L567.0 109.7 L568.0 109.2 L569.0 109.9 L570.0 110.5 L571.0 110.8 L572.0 110.8 L573.0 111.0 L574.0 111.6 L575.0 113.2 L576.0 113.9 L577.0 114.5 L578.0 116.1 L579.0 117.0 L580.0 118.1 L581.0 119.8 L582.0 120.5 L583.0 121.3 L584.0 122.7 L585.0 123.5 L586.0 124.6 L587.0 126.3 L588.0 127.3 L589.0 128.6 L590.0 129.7 L591.0 130.5 L592.0 131.4 L593.0 132.2 L594.0 132.9 L595.0 132.5 L596.0 132.7 L597.0 133.4 L598.0 134.4 L599.0 135.6 L600.0 136.5 L601.0 136.9 L602.0 137.5 L603.0 137.9 L604.0 137.4 L605.0 137.4 L606.0 138.1 L607.0 138.3 L608.0 139.5 L609.0 140.2 L610.0 140.6 L611.0 141.2 L612.0 140.9 L613.0 140.8 L614.0 140.6 L615.0 139.7 L616.0 139.4 L617.0 138.9 L618.0 138.6 L619.0 140.6 L620.0 141.7 L621.0 142.4 L622.0 143.2 L623.0 143.8 L624.0 144.4 L625.0 145.1 L626.0 146.3 L627.0 147.9 L628.0 149.2 L629.0 150.9 L630.0 152.5 L631.0 153.2 L632.0 154.6 L633.0 156.2 L634.0 157.6 L635.0 159.2 L636.0 159.6 L637.0 159.2 L638.0 159.8 L639.0 160.1 L640.0 160.1 L641.0 160.6 L642.0 160.9 L643.0 161.5 L644.0 161.5 L645.0 161.0 L646.0 161.7 L647.0 162.4 L648.0 163.3 L649.0 163.9 L650.0 163.3 L651.0 163.3 L652.0 163.9 L653.0 164.6 L654.0 164.9 L655.0 165.6 L656.0 166.8 L657.0 166.6 L658.0 166.1 L659.0 166.9 L660.0 167.8 L661.0 168.1 L662.0 168.4 L663.0 168.3 L664.0 168.8 L665.0 168.8 L666.0 168.4 L667.0 169.3 L668.0 170.9 L669.0 171.4 L670.0 170.8 L671.0 170.8 L672.0 171.6 L673.0 172.2 L674.0 172.8 L675.0 172.7 L676.0 172.9 L677.0 173.2 L678.0 173.6 L679.0 173.9 L680.0 173.9 L681.0 174.3"/>
<path d="M450.0 144.6 L451.0 144.2 L452.0 144.1 L453.0 144.4 L454.0 144.8 L455.0 144.2 L456.0 143.6 L457.0 143.2 L458.0 143.5 L459.0 143.5 L460.0 143.3 L461.0 143.2 L462.0 143.3 L463.0 143.6 L464.0 143.9 L465.0 144.3 L466.0 144.7 L467.0 145.0 L468.0 144.9 L469.0 144.6 L470.0 144.3 L471.0 144.4 L472.0 144.3 L473.0 144.4 L474.0 144.4 L475.0 144.5 L476.0 144.6 L477.0 144.7 L478.0 144.9 L479.0 145.1 L480.0 145.5 L481.0 145.6 L482.0 145.1 L483.0 144.3 L484.0 142.9 L485.0 142.2 L486.0 141.7 L487.0 141.5 L488.0 141.1 L489.0 140.3 L490.0 139.9 L491.0 139.5 L492.0 139.2 L493.0 138.3 L494.0 137.2 L495.0 136.1 L496.0 135.1 L497.0 134.2 L498.0 133.5 L499.0 133.0 L500.0 132.8 L501.0 132.4 L502.0 131.9 L503.0 131.7 L504.0 131.4 L505.0 131.3 L506.0 130.3 L507.0 129.1 L508.0 127.4 L509.0 126.2 L510.0 125.3 L511.0 124.2 L512.0 122.2 L513.0 120.3 L514.0 118.8 L515.0 117.8 L516.0 116.8 L517.0 115.6 L518.0 113.8 L519.0 111.9 L520.0 110.9 L521.0 110.2 L522.0 109.5 L523.0 108.6 L524.0 107.4 L525.0 106.2 L526.0 104.9 L527.0 103.9 L528.0 102.9 L529.0 101.6 L530.0 100.4 L531.0 99.2 L532.0 98.1 L533.0 97.1 L534.0 96.0 L535.0 94.8 L536.0 93.6 L537.0 92.6 L538.0 91.4 L539.0 90.2 L540.0 89.0 L541.0 87.9 L542.0 86.8 L543.0 85.6 L544.0 84.4 L545.0 83.3 L546.0 82.3 L547.0 81.2 L548.0 80.2 L549.0 79.4 L550.0 78.4 L551.0 77.4 L552.0 76.4 L553.0 75.7 L554.0 75.3 L555.0 74.9 L556.0 74.4 L557.0 73.9 L558.0 73.5 L559.0 73.1 L560.0 72.8 L561.0 72.6 L562.0 72.3 L563.0 72.1 L564.0 72.0 L565.0 71.9 L566.0 71.8 L567.0 71.8 L568.0 71.9 L569.0 72.1 L570.0 72.2 L571.0 72.4 L572.0 72.7 L573.0 73.1 L574.0 73.7 L575.0 74.3 L576.0 75.3 L577.0 76.5 L578.0 77.8 L579.0 79.2 L580.0 80.4 L581.0 81.4 L582.0 82.3 L583.0 83.4 L584.0 84.3 L585.0 85.2 L586.0 86.1 L587.0 87.2 L588.0 88.3 L589.0 89.5 L590.0 90.7 L591.0 91.9 L592.0 93.1 L593.0 94.2 L594.0 95.4 L595.0 96.5 L596.0 97.7 L597.0 98.8 L598.0 100.1 L599.0 101.2 L600.0 102.3 L601.0 103.3 L602.0 104.4 L603.0 105.6 L604.0 106.7 L605.0 107.6 L606.0 108.5 L607.0 109.6 L608.0 110.9 L609.0 112.2 L610.0 113.5 L611.0 114.7 L612.0 115.8 L613.0 116.8 L614.0 117.9 L615.0 119.0 L616.0 120.1 L617.0 121.2 L618.0 122.3 L619.0 123.1 L620.0 124.0 L621.0 125.0 L622.0 126.0 L623.0 126.9 L624.0 127.5 L625.0 128.2 L626.0 128.8 L627.0 129.6 L628.0 130.3 L629.0 130.9 L630.0 131.4 L631.0 131.9 L632.0 132.7 L633.0 133.4 L634.0 134.1 L635.0 134.8 L636.0 135.5 L637.0 136.0 L638.0 136.5 L639.0 136.8 L640.0 137.1 L641.0 137.6 L642.0 138.1 L643.0 138.6 L644.0 139.1 L645.0 139.6 L646.0 140.0 L647.0 140.2 L648.0 140.4 L649.0 140.7 L650.0 141.0 L651.0 141.6 L652.0 142.1 L653.0 142.4 L654.0 142.6 L655.0 142.7 L656.0 142.9 L657.0 143.2 L658.0 143.4 L659.0 143.4 L660.0 143.5 L661.0 143.7 L662.0 144.0 L663.0 144.2 L664.0 144.3 L665.0 144.5 L666.0 144.8 L667.0 144.9 L668.0 144.9 L669.0 144.9 L670.0 145.0 L671.0 145.1 L672.0 145.1 L673.0 145.1 L674.0 145.2 L675.0 145.2 L676.0 145.3 L677.0 145.5 L678.0 145.7 L679.0 145.6 L680.0 145.4 L681.0 145.3" stroke-width="2.1"/>
</g>
<path d="M46.0 214.7 L47.5 214.0 L49.0 219.9 L50.5 212.6 L52.0 215.2 L53.5 217.8 L55.0 211.7 L56.5 214.1 L58.0 215.4 L59.5 213.7 L61.0 212.2 L62.5 214.7 L64.0 213.6 L65.5 215.5 L67.0 209.1 L68.5 209.1 L70.0 207.1 L70.0 207.1 L71.5 211.2 L73.0 209.0 L74.5 216.5 L76.0 211.7 L77.5 213.3 L79.0 213.3 L80.5 213.6 L82.0 213.5 L83.5 210.1 L85.0 210.4 L86.5 212.4 L88.0 214.3 L89.5 213.8 L91.0 215.7 L92.5 212.1 L94.0 214.4 L95.5 213.8 L97.0 214.0 L98.5 214.5 L100.0 214.2 L101.5 216.4 L103.0 212.5 L104.5 216.7 L106.0 211.6 L107.5 212.4 L109.0 213.5 L110.5 212.1 L112.0 210.4 L113.5 212.3 L115.0 213.6 L116.5 213.7 L118.0 212.4 L119.5 213.5 L121.0 216.5 L122.5 212.9 L124.0 210.6 L125.5 212.4 L127.0 210.4 L128.5 210.5 L130.0 209.1 L131.5 215.4 L133.0 213.2 L134.5 213.3 L136.0 212.5 L137.5 215.8 L139.0 212.3 L140.5 212.0 L142.0 215.2 L143.5 213.1 L145.0 215.9 L146.5 212.5 L148.0 207.8 L149.5 217.1 L151.0 209.2 L152.5 217.9 L154.0 216.0 L155.5 211.4 L157.0 211.5 L158.5 211.5 L160.0 216.2 L161.5 212.5 L163.0 212.5 L164.5 213.4 L166.0 217.7 L167.5 212.8 L169.0 214.7 L170.5 214.5 L172.0 214.9 L173.5 214.8 L175.0 211.2 L176.5 213.3 L178.0 211.9 L179.5 212.3 L181.0 215.9 L182.5 211.3 L184.0 213.2 L185.5 211.6 L187.0 212.1 L188.5 214.7 L190.0 211.0 L191.5 211.7 L193.0 213.5 L194.5 212.7 L196.0 213.0 L197.5 211.3 L199.0 208.0 L200.5 213.2 L202.0 208.4 L203.5 205.6 L205.0 201.6 L205.4 201.7 L206.5 205.7 L208.0 205.8 L209.5 214.3 L211.0 211.6 L212.5 211.0 L214.0 214.0 L215.5 210.8 L217.0 207.5 L218.5 211.5 L220.0 214.1 L221.5 216.6 L223.0 208.0 L224.5 213.4 L226.0 215.2 L227.5 212.5 L229.0 211.1 L230.5 209.7 L232.0 209.7 L233.5 211.9 L235.0 211.9 L236.5 207.9 L238.0 210.3 L239.5 213.8 L241.0 211.0 L242.5 210.7 L244.0 211.6 L245.5 210.5 L247.0 214.2 L248.5 214.3 L250.0 214.6 L251.5 211.6 L253.0 212.6 L254.5 213.9 L256.0 214.0 L257.5 213.4 L259.0 213.2 L260.5 208.0 L262.0 199.3 L263.5 186.1 L264.4 181.5 L265.0 183.5 L266.5 196.4 L268.0 207.4 L269.5 209.9 L271.0 215.0 L272.5 210.8 L274.0 207.9 L275.5 210.7 L277.0 207.7 L278.5 206.0 L280.0 208.3 L281.5 206.9 L283.0 207.6 L284.5 210.9 L286.0 208.7 L287.5 211.5 L289.0 210.0 L290.5 210.5 L292.0 207.5 L293.5 207.0 L295.0 203.8 L296.5 206.7 L298.0 207.6 L299.5 208.1 L301.0 211.7 L302.5 208.3 L304.0 213.3 L305.5 209.0 L307.0 206.8 L308.5 203.7 L310.0 203.0 L311.5 203.6 L313.0 212.5 L314.5 207.1 L316.0 212.0 L317.5 208.1 L319.0 210.4 L320.5 210.2 L322.0 208.9 L323.5 211.4 L325.0 212.3 L326.5 210.4 L328.0 209.7 L329.5 211.7 L331.0 212.6 L332.5 213.5 L334.0 212.2 L335.5 211.2 L337.0 208.9 L338.5 210.8 L340.0 206.0 L341.5 203.9 L343.0 207.6 L344.5 209.7 L346.0 211.5 L347.5 208.5 L349.0 210.6 L350.5 208.2 L352.0 208.4 L353.5 201.6 L354.9 197.4 L355.0 197.2 L356.5 201.9 L358.0 206.6 L359.5 213.3 L361.0 206.0 L362.5 207.7 L364.0 209.6 L365.5 211.9 L367.0 210.7 L368.5 212.3 L370.0 212.9 L371.5 215.4 L373.0 211.5 L374.5 211.2 L376.0 212.0 L377.5 210.2 L379.0 211.8 L380.5 214.1 L382.0 213.2 L383.5 215.0 L385.0 215.9 L386.5 216.5 L388.0 213.9 L389.5 210.3 L391.0 205.4 L392.5 200.6 L394.0 200.0 L395.5 204.2 L397.0 207.8 L398.5 208.4 L400.0 207.6 L401.5 210.9 L403.0 208.3 L404.5 205.6 L406.0 202.0 L407.5 198.0 L409.0 197.7 L410.5 202.7 L412.0 208.0 L413.5 207.7 L415.0 206.9 L416.5 206.8 L418.0 202.1 L419.5 198.0 L421.0 194.0 L422.5 198.3 L424.0 202.1 L425.5 203.0 L427.0 204.0 L428.5 206.2 L430.0 208.3 L431.5 212.3 L433.0 211.2 L434.5 208.5 L436.0 208.0 L437.5 208.9 L439.0 206.4 L440.5 199.8 L442.0 194.0 L443.5 198.5 L445.0 204.3 L446.5 209.9 L448.0 212.2 L449.5 216.1 L451.0 211.1 L452.5 196.8 L454.0 175.4 L455.5 160.7 L456.3 158.0 L457.0 160.6 L458.5 173.8 L460.0 195.4 L461.5 207.8 L463.0 212.1 L464.5 207.3 L466.0 204.5 L467.5 199.3 L469.0 195.3 L470.5 198.3 L472.0 200.6 L473.5 200.9 L475.0 199.8 L476.5 202.0 L478.0 203.7 L479.5 205.2 L481.0 200.4 L482.5 196.7 L484.0 194.6 L485.5 198.8 L487.0 203.3 L488.5 204.3 L490.0 206.4 L491.5 207.3 L493.0 209.8 L494.5 210.7 L496.0 213.6 L497.5 213.7 L499.0 207.2 L500.5 202.8 L502.0 197.6 L503.5 200.8 L505.0 206.5 L506.5 208.3 L508.0 212.3 L509.5 217.1 L511.0 216.7 L512.5 214.6 L514.0 212.9 L515.5 211.4 L517.0 210.0 L518.5 208.4 L520.0 209.0 L521.5 206.4 L523.0 205.4 L524.5 205.3 L526.0 207.3 L527.5 208.9 L529.0 211.0 L530.5 213.3 L532.0 208.4 L533.5 209.3 L535.0 206.0 L536.5 203.4 L538.0 207.8 L539.5 212.7 L541.0 217.2 L542.5 217.0 L544.0 213.2 L545.5 212.1 L547.0 203.8 L548.5 198.5 L550.0 201.1 L551.5 206.3 L553.0 210.1 L554.5 212.9 L556.0 214.4 L557.5 209.6 L559.0 211.3 L560.5 208.4 L562.0 209.6 L563.5 210.6 L565.0 209.6 L566.5 214.6 L568.0 211.0 L569.5 212.2 L571.0 208.6 L572.5 210.1 L574.0 212.8 L575.5 211.7 L577.0 213.4 L578.5 216.5 L580.0 215.2 L581.5 213.3 L583.0 211.9 L584.5 209.8 L586.0 212.0 L587.5 213.9 L589.0 217.1 L590.5 217.4 L592.0 211.6 L593.5 212.8 L595.0 209.2 L596.5 209.9 L598.0 210.3 L599.5 211.4 L601.0 210.1 L602.5 210.0 L604.0 213.6 L605.5 209.7 L607.0 216.2 L608.5 216.0 L610.0 218.0 L611.5 218.5 L613.0 211.8 L614.5 207.8 L616.0 207.6 L617.5 210.2 L619.0 211.2 L620.5 212.4 L622.0 214.2 L623.5 212.6 L625.0 214.1 L626.5 214.4 L628.0 214.7 L629.5 217.2 L631.0 217.9 L632.5 212.6 L634.0 215.6 L635.5 211.2 L637.0 208.8 L638.5 208.1 L640.0 207.5 L641.5 208.9 L643.0 214.3 L644.5 216.1 L646.0 215.5 L647.5 217.6 L649.0 217.4 L650.5 217.0 L652.0 217.7 L653.5 216.3 L655.0 216.0 L656.5 215.1 L658.0 216.4 L659.5 214.8 L661.0 214.4 L662.5 213.2 L664.0 212.6 L665.5 212.8 L667.0 213.9 L668.5 210.9 L670.0 213.4 L671.5 210.9 L673.0 210.6 L674.5 210.0 L676.0 214.3 L677.5 210.0 L679.0 214.3 L680.5 215.6" stroke-width="1.45"/>
<path d="M46.3 222.8 L47.0 222.3 L47.7 221.9 L48.4 221.4 L49.1 221.5 L49.8 221.9 L50.5 222.4 L51.2 222.7 L51.9 222.4 L52.6 221.9 L53.3 221.8 L54.0 221.5 L54.7 221.2 L55.4 221.2 L56.1 220.8 L56.8 221.0 L57.5 221.1 L58.2 221.1 L58.9 221.2 L59.6 221.3 L60.3 221.4 L61.0 221.5 L61.7 221.7 L62.4 221.4 L63.1 221.7 L63.8 222.0 L64.5 222.5 L65.2 223.3 L65.9 223.8 L66.6 224.5 L67.3 224.9 L68.0 225.6 L68.7 226.6 L69.4 226.9 L70.1 226.9 L70.8 226.3 L71.5 225.2 L72.2 224.3 L72.9 223.8 L73.6 223.2 L74.3 223.0 L75.0 222.8 L75.7 222.7 L76.4 222.7 L77.1 222.7 L77.8 222.9 L78.5 223.0 L79.2 222.6 L79.9 222.9 L80.6 222.8 L81.3 222.8 L82.0 223.7 L82.7 223.6 L83.4 224.3 L84.1 224.6 L84.8 224.3 L85.5 223.9 L86.2 223.5 L86.9 223.2 L87.6 223.1 L88.3 223.4 L89.0 223.3 L89.7 223.0 L90.4 222.8 L91.1 222.4 L91.8 222.1 L92.5 221.7 L93.2 222.1 L93.9 222.1 L94.6 222.2 L95.3 222.8 L96.0 222.5 L96.7 222.6 L97.4 222.8 L98.1 222.5 L98.8 222.8 L99.5 222.9 L100.2 222.9 L100.9 223.3 L101.6 223.2 L102.3 223.1 L103.0 223.3 L103.7 223.2 L104.4 223.2 L105.1 223.5 L105.8 223.6 L106.5 223.4 L107.2 223.4 L107.9 223.4 L108.6 223.6 L109.3 223.9 L110.0 223.8 L110.7 224.0 L111.4 224.3 L112.1 224.5 L112.8 224.6 L113.5 224.7 L114.2 223.9 L114.9 223.4 L115.6 223.2 L116.3 222.6 L117.0 222.3 L117.7 222.0 L118.4 221.6 L119.1 221.5 L119.8 221.2 L120.5 221.2 L121.2 221.4 L121.9 221.7 L122.6 221.7 L123.3 222.0 L124.0 222.2 L124.7 221.9 L125.4 222.3 L126.1 222.5 L126.8 222.3 L127.5 222.4 L128.2 222.5 L128.9 222.3 L129.6 222.1 L130.3 222.5 L131.0 223.0 L131.7 223.3 L132.4 223.6 L133.1 223.5 L133.8 223.3 L134.5 223.0 L135.2 222.9 L135.9 223.1 L136.6 223.2 L137.3 223.5 L138.0 223.7 L138.7 224.0 L139.4 223.9 L140.1 224.4 L140.8 224.6 L141.5 224.1 L142.2 224.1 L142.9 223.7 L143.6 223.4 L144.3 223.4 L145.0 223.5 L145.7 223.5 L146.4 223.3 L147.1 223.2 L147.8 222.7 L148.5 222.4 L149.2 222.4 L149.9 222.0 L150.6 222.0 L151.3 222.0 L152.0 221.8 L152.7 221.8 L153.4 221.6 L154.1 221.3 L154.8 221.2 L155.5 220.9 L156.2 220.9 L156.9 221.0 L157.6 220.8 L158.3 221.0 L159.0 221.1 L159.7 221.5 L160.4 221.8 L161.1 222.1 L161.8 222.1 L162.5 221.9 L163.2 222.0 L163.9 221.9 L164.6 222.1 L165.3 222.2 L166.0 222.1 L166.7 222.3 L167.4 222.5 L168.1 222.6 L168.8 222.8 L169.5 223.1 L170.2 223.1 L170.9 222.9 L171.6 222.7 L172.3 222.3 L173.0 222.1 L173.7 222.1 L174.4 222.4 L175.1 222.7 L175.8 222.9 L176.5 223.2 L177.2 223.1 L177.9 222.9 L178.6 223.0 L179.3 222.8 L180.0 223.3 L180.7 223.2 L181.4 223.0 L182.1 223.4 L182.8 222.8 L183.5 223.2 L184.2 223.2 L184.9 222.9 L185.6 223.6 L186.3 223.7 L187.0 224.3 L187.7 224.5 L188.4 224.4 L189.1 224.1 L189.8 223.7 L190.5 223.0 L191.2 222.8 L191.9 222.8 L192.6 222.8 L193.3 223.3 L194.0 222.9 L194.7 222.8 L195.4 222.4 L196.1 222.1 L196.8 222.4 L197.5 222.4 L198.2 222.6 L198.9 222.9 L199.6 223.1 L200.3 223.5 L201.0 223.9 L201.7 224.7 L202.4 225.1 L203.1 225.8 L203.8 226.7 L204.5 227.2 L205.2 227.9 L205.9 228.6 L206.6 228.5 L207.3 227.8 L208.0 226.9 L208.7 226.3 L209.4 225.7 L210.1 225.5 L210.8 225.4 L211.5 225.0 L212.2 224.9 L212.9 224.8 L213.6 224.6 L214.3 224.7 L215.0 224.8 L215.7 224.7 L216.4 224.8 L217.1 224.9 L217.8 224.5 L218.5 224.3 L219.2 224.2 L219.9 224.0 L220.6 224.4 L221.3 224.8 L222.0 224.9 L222.7 225.4 L223.4 226.0 L224.1 226.2 L224.8 227.0 L225.5 227.0 L226.2 227.1 L226.9 227.3 L227.6 227.4 L228.3 227.3 L229.0 227.1 L229.7 227.0 L230.4 226.3 L231.1 226.1 L231.8 225.8 L232.5 225.7 L233.2 225.4 L233.9 225.3 L234.6 225.3 L235.3 224.9 L236.0 225.3 L236.7 225.2 L237.4 225.1 L238.1 225.2 L238.8 225.2 L239.5 225.0 L240.2 225.2 L240.9 225.1 L241.6 224.9 L242.3 224.8 L243.0 224.8 L243.7 224.7 L244.4 224.5 L245.1 224.5 L245.8 224.5 L246.5 224.2 L247.2 224.0 L247.9 223.9 L248.6 223.6 L249.3 223.7 L250.0 223.8 L250.7 224.1 L251.4 223.9 L252.1 223.7 L252.8 223.7 L253.5 223.2 L254.2 222.6 L254.9 222.4 L255.6 221.9 L256.3 221.5 L257.0 221.7 L257.7 221.4 L258.4 221.1 L259.1 220.8 L259.8 221.2 L260.5 222.6 L261.2 224.6 L261.9 227.1 L262.6 231.3 L263.3 236.4 L264.0 240.4 L264.7 242.0 L265.4 240.9 L266.1 236.8 L266.8 232.6 L267.5 229.2 L268.2 227.7 L268.9 226.8 L269.6 225.7 L270.3 225.2 L271.0 224.8 L271.7 224.8 L272.4 225.0 L273.1 225.0 L273.8 225.6 L274.5 225.9 L275.2 226.1 L275.9 226.3 L276.6 226.1 L277.3 226.7 L278.0 227.1 L278.7 227.6 L279.4 228.1 L280.1 228.1 L280.8 228.4 L281.5 228.4 L282.2 228.5 L282.9 228.3 L283.6 228.0 L284.3 227.4 L285.0 226.6 L285.7 226.3 L286.4 226.0 L287.1 225.9 L287.8 225.8 L288.5 225.7 L289.2 225.5 L289.9 225.7 L290.6 225.7 L291.3 225.9 L292.0 225.7 L292.7 225.8 L293.4 225.9 L294.1 225.5 L294.8 225.7 L295.5 225.5 L296.2 225.7 L296.9 226.2 L297.6 226.4 L298.3 226.3 L299.0 226.3 L299.7 226.2 L300.4 226.1 L301.1 226.1 L301.8 225.8 L302.5 225.9 L303.2 225.6 L303.9 225.1 L304.6 225.0 L305.3 224.8 L306.0 225.4 L306.7 226.3 L307.4 227.5 L308.1 228.7 L308.8 229.3 L309.5 230.1 L310.2 230.2 L310.9 229.8 L311.6 229.5 L312.3 229.0 L313.0 227.9 L313.7 227.2 L314.4 226.4 L315.1 225.6 L315.8 225.5 L316.5 225.0 L317.2 224.8 L317.9 224.8 L318.6 224.7 L319.3 224.6 L320.0 224.6 L320.7 224.9 L321.4 225.3 L322.1 225.6 L322.8 226.1 L323.5 226.3 L324.2 226.6 L324.9 227.0 L325.6 227.2 L326.3 227.0 L327.0 226.8 L327.7 226.3 L328.4 225.9 L329.1 225.7 L329.8 225.3 L330.5 225.3 L331.2 224.8 L331.9 224.5 L332.6 224.6 L333.3 224.7 L334.0 225.0 L334.7 225.3 L335.4 225.5 L336.1 225.4 L336.8 225.6 L337.5 225.7 L338.2 226.4 L338.9 227.2 L339.6 228.0 L340.3 228.8 L341.0 229.2 L341.7 229.6 L342.4 229.8 L343.1 229.4 L343.8 228.9 L344.5 227.8 L345.2 226.4 L345.9 225.4 L346.6 224.3 L347.3 223.5 L348.0 222.6 L348.7 222.3 L349.4 221.8 L350.1 221.6 L350.8 222.3 L351.5 222.7 L352.2 223.8 L352.9 225.0 L353.6 226.2 L354.3 227.9 L355.0 228.9 L355.7 229.3 L356.4 228.9 L357.1 227.9 L357.8 226.5 L358.5 226.0 L359.2 225.7 L359.9 225.2 L360.6 225.3 L361.3 224.8 L362.0 224.6 L362.7 224.6 L363.4 224.4 L364.1 224.2 L364.8 224.1 L365.5 223.8 L366.2 223.7 L366.9 223.5 L367.6 223.0 L368.3 222.8 L369.0 222.3 L369.7 222.3 L370.4 222.0 L371.1 222.1 L371.8 222.8 L372.5 223.6 L373.2 224.9 L373.9 226.0 L374.6 226.7 L375.3 226.7 L376.0 226.4 L376.7 225.9 L377.4 225.2 L378.1 224.7 L378.8 224.4 L379.5 224.0 L380.2 223.3 L380.9 223.1 L381.6 222.9 L382.3 223.1 L383.0 223.4 L383.7 223.8 L384.4 224.1 L385.1 223.9 L385.8 224.6 L386.5 224.7 L387.2 224.7 L387.9 225.0 L388.6 225.4 L389.3 225.7 L390.0 226.4 L390.7 227.2 L391.4 227.5 L392.1 228.4 L392.8 229.3 L393.5 230.5 L394.2 231.5 L394.9 232.0 L395.6 231.8 L396.3 231.1 L397.0 230.4 L397.7 229.6 L398.4 228.7 L399.1 228.0 L399.8 227.6 L400.5 227.2 L401.2 227.0 L401.9 227.0 L402.6 226.9 L403.3 226.9 L404.0 227.1 L404.7 227.8 L405.4 228.6 L406.1 230.4 L406.8 231.9 L407.5 233.0 L408.2 234.1 L408.9 234.5 L409.6 234.2 L410.3 233.3 L411.0 232.1 L411.7 230.4 L412.4 228.6 L413.1 227.3 L413.8 226.9 L414.5 226.9 L415.2 227.1 L415.9 227.8 L416.6 228.3 L417.3 228.9 L418.0 230.5 L418.7 231.9 L419.4 233.5 L420.1 235.0 L420.8 235.7 L421.5 235.1 L422.2 234.0 L422.9 232.4 L423.6 231.0 L424.3 230.2 L425.0 230.2 L425.7 230.1 L426.4 229.6 L427.1 229.2 L427.8 228.8 L428.5 228.7 L429.2 228.6 L429.9 228.5 L430.6 228.0 L431.3 227.4 L432.0 226.5 L432.7 226.0 L433.4 225.5 L434.1 225.3 L434.8 225.7 L435.5 225.8 L436.2 226.0 L436.9 226.7 L437.6 227.5 L438.3 228.5 L439.0 229.6 L439.7 231.2 L440.4 233.4 L441.1 234.9 L441.8 236.3 L442.5 236.2 L443.2 235.1 L443.9 233.6 L444.6 231.7 L445.3 230.0 L446.0 228.5 L446.7 227.3 L447.4 226.2 L448.1 225.6 L448.8 225.0 L449.5 224.2 L450.2 223.8 L450.9 224.3 L451.6 225.5 L452.3 227.4 L453.0 230.5 L453.7 237.7 L454.4 246.8 L455.1 255.8 L455.8 262.8 L456.5 265.2 L457.2 262.5 L457.9 255.3 L458.6 246.2 L459.3 237.5 L460.0 230.9 L460.7 228.6 L461.4 226.4 L462.1 224.7 L462.8 223.9 L463.5 224.0 L464.2 225.0 L464.9 225.9 L465.6 227.1 L466.3 228.8 L467.0 231.4 L467.7 234.2 L468.4 236.5 L469.1 237.4 L469.8 236.9 L470.5 236.4 L471.2 235.4 L471.9 234.0 L472.6 233.3 L473.3 232.6 L474.0 232.4 L474.7 232.2 L475.4 231.7 L476.1 231.4 L476.8 230.7 L477.5 230.4 L478.2 230.2 L478.9 230.5 L479.6 230.9 L480.3 231.5 L481.0 232.1 L481.7 233.1 L482.4 235.2 L483.1 236.7 L483.8 236.4 L484.5 235.9 L485.2 234.7 L485.9 233.6 L486.6 232.6 L487.3 231.4 L488.0 230.5 L488.7 229.4 L489.4 228.7 L490.1 228.3 L490.8 227.8 L491.5 227.5 L492.2 226.8 L492.9 225.9 L493.6 224.9 L494.3 224.2 L495.0 224.1 L495.7 224.2 L496.4 224.5 L497.1 224.9 L497.8 225.6 L498.5 226.7 L499.2 228.0 L499.9 228.9 L500.6 230.5 L501.3 232.4 L502.0 233.7 L502.7 235.0 L503.4 235.0 L504.1 233.7 L504.8 231.9 L505.5 229.5 L506.2 227.4 L506.9 226.3 L507.6 225.1 L508.3 223.9 L509.0 223.2 L509.7 222.4 L510.4 222.6 L511.1 222.8 L511.8 222.8 L512.5 223.2 L513.2 223.4 L513.9 223.5 L514.6 224.0 L515.3 224.1 L516.0 224.4 L516.7 224.8 L517.4 224.8 L518.1 225.2 L518.8 225.4 L519.5 225.7 L520.2 226.1 L520.9 226.5 L521.6 226.6 L522.3 226.9 L523.0 226.5 L523.7 226.3 L524.4 226.1 L525.1 225.7 L525.8 225.4 L526.5 225.2 L527.2 225.0 L527.9 224.8 L528.6 225.0 L529.3 225.1 L530.0 225.3 L530.7 225.8 L531.4 226.8 L532.1 228.4 L532.8 229.9 L533.5 231.3 L534.2 232.2 L534.9 232.4 L535.6 232.4 L536.3 231.0 L537.0 229.9 L537.7 228.4 L538.4 226.5 L539.1 225.7 L539.8 224.2 L540.5 222.8 L541.2 221.9 L541.9 221.3 L542.6 221.4 L543.3 222.3 L544.0 223.4 L544.7 224.5 L545.4 226.0 L546.1 227.2 L546.8 228.9 L547.5 230.6 L548.2 231.9 L548.9 233.0 L549.6 232.7 L550.3 231.9 L551.0 230.5 L551.7 228.7 L552.4 227.3 L553.1 226.2 L553.8 225.9 L554.5 225.2 L555.2 224.7 L555.9 224.3 L556.6 223.5 L557.3 223.1 L558.0 223.0 L558.7 223.0 L559.4 223.0 L560.1 223.5 L560.8 223.4 L561.5 223.7 L562.2 224.2 L562.9 224.3 L563.6 224.6 L564.3 224.8 L565.0 224.6 L565.7 224.6 L566.4 224.8 L567.1 224.8 L567.8 224.5 L568.5 224.0 L569.2 223.3 L569.9 222.8 L570.6 222.7 L571.3 222.2 L572.0 222.2 L572.7 222.1 L573.4 221.5 L574.1 221.5 L574.8 221.0 L575.5 220.5 L576.2 220.5 L576.9 220.5 L577.6 220.6 L578.3 220.7 L579.0 220.9 L579.7 221.3 L580.4 221.2 L581.1 221.3 L581.8 221.2 L582.5 221.0 L583.2 221.3 L583.9 221.4 L584.6 222.1 L585.3 222.5 L586.0 222.7 L586.7 223.1 L587.4 223.3 L588.1 223.5 L588.8 224.0 L589.5 224.3 L590.2 224.5 L590.9 224.6 L591.6 224.4 L592.3 224.1 L593.0 223.7 L593.7 223.3 L594.4 222.7 L595.1 222.7 L595.8 222.7 L596.5 223.3 L597.2 224.1 L597.9 224.9 L598.6 225.4 L599.3 225.4 L600.0 225.2 L600.7 224.6 L601.4 223.8 L602.1 223.5 L602.8 223.0 L603.5 222.2 L604.2 221.8 L604.9 221.2 L605.6 220.5 L606.3 220.0 L607.0 219.2 L607.7 218.6 L608.4 218.5 L609.1 219.0 L609.8 220.0 L610.5 221.2 L611.2 221.9 L611.9 222.3 L612.6 223.0 L613.3 224.2 L614.0 225.4 L614.7 226.5 L615.4 227.6 L616.1 227.9 L616.8 228.0 L617.5 227.7 L618.2 226.9 L618.9 226.1 L619.6 225.2 L620.3 224.8 L621.0 224.3 L621.7 223.8 L622.4 223.9 L623.1 223.4 L623.8 223.1 L624.5 222.9 L625.2 222.4 L625.9 222.2 L626.6 222.0 L627.3 221.8 L628.0 221.6 L628.7 221.2 L629.4 220.8 L630.1 220.5 L630.8 220.1 L631.5 220.0 L632.2 220.4 L632.9 219.9 L633.6 220.2 L634.3 220.5 L635.0 220.8 L635.7 221.5 L636.4 221.6 L637.1 221.9 L637.8 222.4 L638.5 223.0 L639.2 223.7 L639.9 224.4 L640.6 225.0 L641.3 225.1 L642.0 225.6 L642.7 225.0 L643.4 224.7 L644.1 224.1 L644.8 223.1 L645.5 222.9 L646.2 222.0 L646.9 221.8 L647.6 221.2 L648.3 220.9 L649.0 220.9 L649.7 220.6 L650.4 220.5 L651.1 220.0 L651.8 219.4 L652.5 219.0 L653.2 218.7 L653.9 218.5 L654.6 218.6 L655.3 218.6 L656.0 218.8 L656.7 219.0 L657.4 219.1 L658.1 219.6 L658.8 220.0 L659.5 220.3 L660.2 220.5 L660.9 220.8 L661.6 220.8 L662.3 221.2 L663.0 221.6 L663.7 222.0 L664.4 222.5 L665.1 222.4 L665.8 222.5 L666.5 222.6 L667.2 222.9 L667.9 223.4 L668.6 223.9 L669.3 224.2 L670.0 224.2 L670.7 224.0 L671.4 223.8 L672.1 223.6 L672.8 223.3 L673.5 223.2 L674.2 222.7 L674.9 222.4 L675.6 222.5 L676.3 222.4 L677.0 222.3 L677.7 222.1 L678.4 221.6 L679.1 221.4 L679.8 221.5 L680.5 221.5" stroke-width="1.2"/>
</g>
<g font-family="'Liberation Serif', 'Times New Roman',  serif" fill="#111" stroke="#111" stroke-width="0.15" text-rendering="geometricPrecision" font-size="12px" text-anchor="middle">
<text x="50.2" y="31.6">0</text>
<text x="100" y="31.6">1</text>
<text x="149.3" y="31.6">2</text>
<text x="198.8" y="31.6">3</text>
<text x="249.8" y="31.6">93917</text>
<text x="326.8" y="31.6">93917.5</text>
<text x="403.8" y="31.6">93918</text>
<text x="503.6" y="31.6">93919</text>
<text x="580.6" y="31.6">93919.5</text>
<text x="657.6" y="31.6">93920</text>
<text x="136.3" y="283.3">93890</text>
<text x="245.3" y="283.3">93900</text>
<text x="354.4" y="283.3">93910</text>
<text x="463.4" y="283.3">93920</text>
<text x="572.5" y="283.3">93930</text>
<text x="41.4" y="62.0" text-anchor="end">0.1</text>
<text x="41.4" y="82.3" text-anchor="end">0</text>
<text x="41.4" y="102.7" text-anchor="end">-0.1</text>
<text x="41.4" y="123.0" text-anchor="end">-0.2</text>
<text x="41.4" y="143.4" text-anchor="end">-0.3</text>
<text x="85.4" y="63.8">0</text>
<text x="112.7" y="103.7">1</text>
<text x="122.5" y="109.3">2</text>
<text x="132.2" y="114.3">3</text>
<text x="142.2" y="119.6">4</text>
<text x="152" y="125.1">5</text>
<text x="162.2" y="130.5">6</text>
<text x="171.7" y="135.7">7</text>
<text x="181.7" y="141.1">8</text>
<text x="191.5" y="146.3">9</text>
<text x="205.4" y="151.3">10</text>
<text x="241.4" y="122.8">10</text>
<text x="262.8" y="122.8">9</text>
<text x="277.7" y="129.2">8</text>
<text x="313.7" y="93.9">7</text>
<text x="328.3" y="89.4">6</text>
<text x="339.8" y="99.9">5</text>
<text x="358.6" y="116.9">4</text>
<text x="361.8" y="147.9">3</text>
<text x="201.5" y="54.8">(a)</text>
<text x="434.6" y="54.8">(b)</text>
<text x="670.5" y="54.8">(c)</text>
<text x="669" y="170.3">(d)</text>
</g>
<g font-family="'Liberation Serif', 'Times New Roman',  serif" fill="#111" stroke="#111" stroke-width="0.15" text-rendering="geometricPrecision" font-size="13.7px">
<text x="132.4" y="14.5" text-anchor="middle" textLength="81.4" lengthAdjust="spacing">time delay / µs</text>
<text x="396" y="13.8">wave number / cm<tspan font-size="9px" dy="-5.2">-1</tspan></text>
<text x="309.2" y="304.3" textLength="108" lengthAdjust="spacing">wave number / cm<tspan font-size="9px" dy="-5.2">-1</tspan></text>
<text transform="translate(695.4 229.2) rotate(-90)" textLength="142" lengthAdjust="spacing">electron signal / arb. units</text>
<text transform="translate(14.6 118.9) rotate(-90)" word-spacing="-2.2px"><tspan font-style="italic">F</tspan> / Vcm<tspan font-size="9px" dy="-5.2">-1</tspan></text>
</g>
<g font-family="'Liberation Serif', 'Times New Roman',  serif" fill="#111" stroke="#111" stroke-width="0.15" text-rendering="geometricPrecision" font-size="17.3px">
<text x="52.6" y="198.6"><tspan font-size="11px" dy="-9.7">37</tspan><tspan dy="9.7">Cl</tspan><tspan font-size="11px" dy="5.7">2</tspan></text>
<text x="270.1" y="194.9"><tspan font-size="11px" dy="-9.8">35</tspan><tspan dy="9.8">Cl</tspan><tspan font-size="11px" dy="-9.8">37</tspan><tspan dy="9.8">Cl</tspan></text>
<text x="462.8" y="183"><tspan font-size="11px" dy="-9.9">35</tspan><tspan dy="9.9">Cl</tspan><tspan font-size="11px" dy="5.6">2</tspan></text>
</g>
</svg>
</body></html>
